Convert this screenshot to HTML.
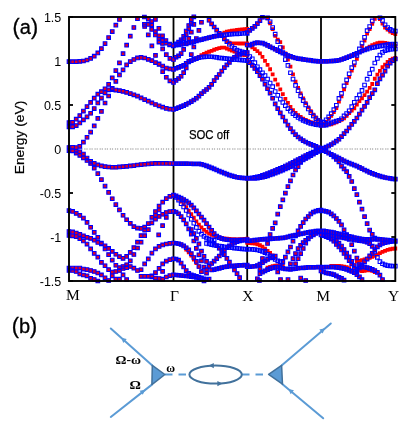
<!DOCTYPE html>
<html><head><meta charset="utf-8"><style>
html,body{margin:0;padding:0;background:#fff;}
body{width:415px;height:437px;overflow:hidden;position:relative;}
svg{position:absolute;left:0;top:0;filter:blur(0.35px);}
</style></head><body>
<svg width="415" height="437" viewBox="0 0 415 437">
<rect width="415" height="437" fill="#fff"/>
<line x1="69" y1="149" x2="395.3" y2="149" stroke="#8a8a8a" stroke-width="1" stroke-dasharray="1.2,0.9,1.2,1.8"/>
<g stroke="#000" stroke-width="1.8">
<line x1="173.5" y1="17" x2="173.5" y2="281"/><line x1="247.2" y1="17" x2="247.2" y2="281"/><line x1="321" y1="17" x2="321" y2="281"/>
<line x1="69" y1="17" x2="73" y2="17"/><line x1="395.3" y1="17" x2="391.3" y2="17"/><line x1="69" y1="61" x2="73" y2="61"/><line x1="395.3" y1="61" x2="391.3" y2="61"/><line x1="69" y1="105" x2="73" y2="105"/><line x1="395.3" y1="105" x2="391.3" y2="105"/><line x1="69" y1="149" x2="73" y2="149"/><line x1="395.3" y1="149" x2="391.3" y2="149"/><line x1="69" y1="193" x2="73" y2="193"/><line x1="395.3" y1="193" x2="391.3" y2="193"/><line x1="69" y1="237" x2="73" y2="237"/><line x1="395.3" y1="237" x2="391.3" y2="237"/><line x1="69" y1="281" x2="73" y2="281"/><line x1="395.3" y1="281" x2="391.3" y2="281"/>
</g>
<path d="M219.89 32.18h3.8v3.8h-3.8zM222.43 30.79h3.8v3.8h-3.8zM224.97 29.77h3.8v3.8h-3.8zM227.51 29.18h3.8v3.8h-3.8zM230.05 28.75h3.8v3.8h-3.8zM232.59 28.40h3.8v3.8h-3.8zM235.13 28.10h3.8v3.8h-3.8zM237.68 27.80h3.8v3.8h-3.8zM240.22 27.53h3.8v3.8h-3.8zM242.76 27.29h3.8v3.8h-3.8zM245.30 27.10h3.8v3.8h-3.8zM207.18 18.37h3.8v3.8h-3.8zM209.72 21.92h3.8v3.8h-3.8zM212.26 25.08h3.8v3.8h-3.8zM214.80 28.26h3.8v3.8h-3.8zM217.34 31.45h3.8v3.8h-3.8zM219.89 33.86h3.8v3.8h-3.8zM222.43 37.00h3.8v3.8h-3.8zM224.97 39.60h3.8v3.8h-3.8zM227.51 40.85h3.8v3.8h-3.8zM230.05 41.40h3.8v3.8h-3.8zM232.59 41.51h3.8v3.8h-3.8zM235.13 41.57h3.8v3.8h-3.8zM237.68 41.60h3.8v3.8h-3.8zM240.22 41.60h3.8v3.8h-3.8zM242.76 41.60h3.8v3.8h-3.8zM245.30 41.60h3.8v3.8h-3.8zM191.93 57.40h3.8v3.8h-3.8zM194.47 56.25h3.8v3.8h-3.8zM197.01 54.88h3.8v3.8h-3.8zM199.56 53.31h3.8v3.8h-3.8zM202.10 51.91h3.8v3.8h-3.8zM204.64 50.83h3.8v3.8h-3.8zM207.18 49.87h3.8v3.8h-3.8zM209.72 48.89h3.8v3.8h-3.8zM212.26 47.86h3.8v3.8h-3.8zM214.80 46.98h3.8v3.8h-3.8zM217.34 46.28h3.8v3.8h-3.8zM219.89 45.73h3.8v3.8h-3.8zM222.43 45.69h3.8v3.8h-3.8zM224.97 46.59h3.8v3.8h-3.8zM227.51 47.68h3.8v3.8h-3.8zM230.05 48.62h3.8v3.8h-3.8zM232.59 49.61h3.8v3.8h-3.8zM235.13 50.63h3.8v3.8h-3.8zM237.68 51.96h3.8v3.8h-3.8zM240.22 52.99h3.8v3.8h-3.8zM242.76 53.10h3.8v3.8h-3.8zM245.30 53.10h3.8v3.8h-3.8zM171.60 193.60h3.8v3.8h-3.8zM174.14 194.93h3.8v3.8h-3.8zM176.68 196.86h3.8v3.8h-3.8zM179.22 199.58h3.8v3.8h-3.8zM181.77 202.37h3.8v3.8h-3.8zM184.31 205.36h3.8v3.8h-3.8zM186.85 208.72h3.8v3.8h-3.8zM189.39 212.22h3.8v3.8h-3.8zM191.93 215.87h3.8v3.8h-3.8zM194.47 219.53h3.8v3.8h-3.8zM197.01 222.72h3.8v3.8h-3.8zM199.56 225.44h3.8v3.8h-3.8zM202.10 227.94h3.8v3.8h-3.8zM204.64 230.06h3.8v3.8h-3.8zM207.18 231.66h3.8v3.8h-3.8zM209.72 232.92h3.8v3.8h-3.8zM212.26 233.97h3.8v3.8h-3.8zM214.80 234.81h3.8v3.8h-3.8zM217.34 235.44h3.8v3.8h-3.8zM219.89 235.96h3.8v3.8h-3.8zM222.43 236.38h3.8v3.8h-3.8zM224.97 236.71h3.8v3.8h-3.8zM227.51 236.95h3.8v3.8h-3.8zM230.05 237.16h3.8v3.8h-3.8zM232.59 237.32h3.8v3.8h-3.8zM235.13 237.40h3.8v3.8h-3.8zM237.68 237.37h3.8v3.8h-3.8zM240.22 237.26h3.8v3.8h-3.8zM242.76 237.07h3.8v3.8h-3.8zM245.30 236.80h3.8v3.8h-3.8zM265.66 16.33h3.8v3.8h-3.8zM268.20 21.34h3.8v3.8h-3.8zM270.75 27.22h3.8v3.8h-3.8zM273.29 33.99h3.8v3.8h-3.8zM275.84 37.73h3.8v3.8h-3.8zM278.38 40.29h3.8v3.8h-3.8zM280.93 45.59h3.8v3.8h-3.8zM283.47 51.61h3.8v3.8h-3.8zM286.02 57.61h3.8v3.8h-3.8zM288.56 64.67h3.8v3.8h-3.8zM291.11 72.42h3.8v3.8h-3.8zM293.65 79.81h3.8v3.8h-3.8zM296.20 85.96h3.8v3.8h-3.8zM298.74 91.39h3.8v3.8h-3.8zM301.29 96.56h3.8v3.8h-3.8zM303.83 101.16h3.8v3.8h-3.8zM306.38 105.38h3.8v3.8h-3.8zM308.92 109.35h3.8v3.8h-3.8zM311.47 112.70h3.8v3.8h-3.8zM314.01 115.58h3.8v3.8h-3.8zM316.56 117.99h3.8v3.8h-3.8zM319.10 119.90h3.8v3.8h-3.8zM365.22 46.35h3.8v3.8h-3.8zM367.78 44.78h3.8v3.8h-3.8zM370.34 43.37h3.8v3.8h-3.8zM372.90 42.20h3.8v3.8h-3.8zM375.47 41.35h3.8v3.8h-3.8zM378.03 40.76h3.8v3.8h-3.8zM380.59 40.75h3.8v3.8h-3.8zM383.15 40.99h3.8v3.8h-3.8zM385.71 41.41h3.8v3.8h-3.8zM388.28 42.31h3.8v3.8h-3.8zM390.84 43.19h3.8v3.8h-3.8zM393.40 44.10h3.8v3.8h-3.8zM245.30 41.50h3.8v3.8h-3.8zM247.84 43.40h3.8v3.8h-3.8zM250.39 45.54h3.8v3.8h-3.8zM252.93 47.29h3.8v3.8h-3.8zM255.48 49.14h3.8v3.8h-3.8zM258.02 51.47h3.8v3.8h-3.8zM260.57 54.93h3.8v3.8h-3.8zM263.11 58.88h3.8v3.8h-3.8zM265.66 63.03h3.8v3.8h-3.8zM268.20 67.36h3.8v3.8h-3.8zM270.75 72.38h3.8v3.8h-3.8zM273.29 77.68h3.8v3.8h-3.8zM275.84 82.60h3.8v3.8h-3.8zM278.38 87.49h3.8v3.8h-3.8zM280.93 92.28h3.8v3.8h-3.8zM283.47 96.88h3.8v3.8h-3.8zM286.02 100.97h3.8v3.8h-3.8zM288.56 104.91h3.8v3.8h-3.8zM291.11 108.17h3.8v3.8h-3.8zM293.65 110.91h3.8v3.8h-3.8zM296.20 113.18h3.8v3.8h-3.8zM298.74 115.05h3.8v3.8h-3.8zM301.29 116.65h3.8v3.8h-3.8zM303.83 118.02h3.8v3.8h-3.8zM306.38 119.20h3.8v3.8h-3.8zM308.92 120.23h3.8v3.8h-3.8zM311.47 121.06h3.8v3.8h-3.8zM314.01 121.73h3.8v3.8h-3.8zM316.56 122.29h3.8v3.8h-3.8zM319.10 122.70h3.8v3.8h-3.8zM245.30 241.00h3.8v3.8h-3.8zM247.84 241.10h3.8v3.8h-3.8zM250.39 241.36h3.8v3.8h-3.8zM252.93 241.72h3.8v3.8h-3.8zM255.48 242.37h3.8v3.8h-3.8zM258.02 243.33h3.8v3.8h-3.8zM260.57 244.87h3.8v3.8h-3.8zM263.11 246.85h3.8v3.8h-3.8zM265.66 249.02h3.8v3.8h-3.8zM268.20 251.12h3.8v3.8h-3.8zM270.75 253.38h3.8v3.8h-3.8zM273.29 255.62h3.8v3.8h-3.8zM265.66 265.86h3.8v3.8h-3.8zM268.20 264.90h3.8v3.8h-3.8zM270.75 264.16h3.8v3.8h-3.8zM273.29 263.74h3.8v3.8h-3.8zM275.84 263.47h3.8v3.8h-3.8zM278.38 263.42h3.8v3.8h-3.8zM280.93 263.81h3.8v3.8h-3.8zM354.97 259.60h3.8v3.8h-3.8zM357.53 258.91h3.8v3.8h-3.8zM360.09 258.19h3.8v3.8h-3.8zM362.66 257.46h3.8v3.8h-3.8zM365.22 256.71h3.8v3.8h-3.8zM367.78 255.86h3.8v3.8h-3.8zM370.34 254.90h3.8v3.8h-3.8zM372.90 253.83h3.8v3.8h-3.8zM375.47 252.60h3.8v3.8h-3.8zM378.03 251.26h3.8v3.8h-3.8zM380.59 250.05h3.8v3.8h-3.8zM383.15 248.89h3.8v3.8h-3.8zM385.71 247.97h3.8v3.8h-3.8zM388.28 247.36h3.8v3.8h-3.8zM390.84 246.87h3.8v3.8h-3.8zM393.40 246.60h3.8v3.8h-3.8zM321.66 121.71h3.8v3.8h-3.8zM324.22 119.92h3.8v3.8h-3.8zM326.79 117.05h3.8v3.8h-3.8zM329.35 113.97h3.8v3.8h-3.8zM331.91 110.21h3.8v3.8h-3.8zM334.47 106.08h3.8v3.8h-3.8zM337.03 99.80h3.8v3.8h-3.8zM339.60 94.41h3.8v3.8h-3.8zM342.16 87.56h3.8v3.8h-3.8zM344.72 81.15h3.8v3.8h-3.8zM347.28 75.04h3.8v3.8h-3.8zM349.85 68.82h3.8v3.8h-3.8zM352.41 63.52h3.8v3.8h-3.8zM354.97 57.04h3.8v3.8h-3.8zM357.53 50.21h3.8v3.8h-3.8zM360.09 44.22h3.8v3.8h-3.8zM362.66 38.61h3.8v3.8h-3.8zM365.22 31.69h3.8v3.8h-3.8zM367.78 27.27h3.8v3.8h-3.8zM370.34 21.87h3.8v3.8h-3.8zM372.90 16.83h3.8v3.8h-3.8zM378.03 17.30h3.8v3.8h-3.8zM380.59 21.72h3.8v3.8h-3.8zM383.15 25.62h3.8v3.8h-3.8zM385.71 27.62h3.8v3.8h-3.8zM388.28 29.74h3.8v3.8h-3.8zM390.84 31.25h3.8v3.8h-3.8zM393.40 32.10h3.8v3.8h-3.8zM319.10 123.60h3.8v3.8h-3.8zM321.66 123.49h3.8v3.8h-3.8zM324.22 123.21h3.8v3.8h-3.8zM326.79 122.82h3.8v3.8h-3.8zM329.35 122.33h3.8v3.8h-3.8zM331.91 121.54h3.8v3.8h-3.8zM334.47 120.50h3.8v3.8h-3.8zM337.03 119.18h3.8v3.8h-3.8zM339.60 118.00h3.8v3.8h-3.8zM342.16 116.54h3.8v3.8h-3.8zM344.72 113.91h3.8v3.8h-3.8zM347.28 111.32h3.8v3.8h-3.8zM349.85 108.79h3.8v3.8h-3.8zM352.41 106.33h3.8v3.8h-3.8zM354.97 102.80h3.8v3.8h-3.8zM357.53 99.27h3.8v3.8h-3.8zM360.09 96.37h3.8v3.8h-3.8zM362.66 93.30h3.8v3.8h-3.8zM365.22 89.68h3.8v3.8h-3.8zM367.78 86.05h3.8v3.8h-3.8zM370.34 82.12h3.8v3.8h-3.8zM372.90 76.84h3.8v3.8h-3.8zM375.47 72.71h3.8v3.8h-3.8zM378.03 69.03h3.8v3.8h-3.8zM380.59 65.25h3.8v3.8h-3.8zM383.15 62.65h3.8v3.8h-3.8zM385.71 60.04h3.8v3.8h-3.8zM388.28 57.97h3.8v3.8h-3.8zM390.84 56.75h3.8v3.8h-3.8zM393.40 56.10h3.8v3.8h-3.8zM357.53 268.60h3.8v3.8h-3.8zM360.09 269.09h3.8v3.8h-3.8zM362.66 268.90h3.8v3.8h-3.8zM365.22 268.51h3.8v3.8h-3.8zM367.78 268.46h3.8v3.8h-3.8zM370.34 269.06h3.8v3.8h-3.8zM372.90 270.15h3.8v3.8h-3.8zM329.35 264.10h3.8v3.8h-3.8zM331.91 264.10h3.8v3.8h-3.8zM334.47 264.10h3.8v3.8h-3.8zM337.03 264.10h3.8v3.8h-3.8zM339.60 264.27h3.8v3.8h-3.8zM342.16 264.75h3.8v3.8h-3.8zM344.72 265.37h3.8v3.8h-3.8zM347.28 266.34h3.8v3.8h-3.8zM184.31 247.60h3.8v3.8h-3.8zM186.85 250.40h3.8v3.8h-3.8zM189.39 253.80h3.8v3.8h-3.8zM191.93 257.68h3.8v3.8h-3.8zM194.47 261.26h3.8v3.8h-3.8zM197.01 265.01h3.8v3.8h-3.8zM199.56 269.81h3.8v3.8h-3.8z" fill="#f00"/>
<path d="M67.10 59.80h3.8v3.8h-3.8zM70.70 59.80h3.8v3.8h-3.8zM74.31 59.80h3.8v3.8h-3.8zM77.91 59.40h3.8v3.8h-3.8zM81.51 59.10h3.8v3.8h-3.8zM85.12 58.09h3.8v3.8h-3.8zM88.72 56.49h3.8v3.8h-3.8zM92.32 54.28h3.8v3.8h-3.8zM95.93 51.07h3.8v3.8h-3.8zM99.53 46.76h3.8v3.8h-3.8zM103.13 41.65h3.8v3.8h-3.8zM106.74 35.64h3.8v3.8h-3.8zM110.34 29.63h3.8v3.8h-3.8zM113.94 23.32h3.8v3.8h-3.8zM117.55 17.52h3.8v3.8h-3.8zM67.10 120.70h3.8v3.8h-3.8zM70.70 120.40h3.8v3.8h-3.8zM74.31 117.29h3.8v3.8h-3.8zM77.91 113.78h3.8v3.8h-3.8zM81.51 109.13h3.8v3.8h-3.8zM85.12 104.80h3.8v3.8h-3.8zM88.72 100.56h3.8v3.8h-3.8zM92.32 96.27h3.8v3.8h-3.8zM95.93 92.30h3.8v3.8h-3.8zM99.53 89.75h3.8v3.8h-3.8zM103.13 86.97h3.8v3.8h-3.8zM106.74 82.40h3.8v3.8h-3.8zM110.34 76.02h3.8v3.8h-3.8zM113.94 68.69h3.8v3.8h-3.8zM117.55 60.95h3.8v3.8h-3.8zM121.15 51.75h3.8v3.8h-3.8zM124.75 43.28h3.8v3.8h-3.8zM128.36 34.32h3.8v3.8h-3.8zM131.96 25.61h3.8v3.8h-3.8zM135.57 16.87h3.8v3.8h-3.8zM67.10 124.90h3.8v3.8h-3.8zM70.70 124.90h3.8v3.8h-3.8zM74.31 123.64h3.8v3.8h-3.8zM77.91 121.01h3.8v3.8h-3.8zM81.51 117.92h3.8v3.8h-3.8zM85.12 114.93h3.8v3.8h-3.8zM88.72 111.36h3.8v3.8h-3.8zM92.32 106.67h3.8v3.8h-3.8zM95.93 101.07h3.8v3.8h-3.8zM99.53 96.20h3.8v3.8h-3.8zM103.13 90.95h3.8v3.8h-3.8zM106.74 87.89h3.8v3.8h-3.8zM110.34 87.70h3.8v3.8h-3.8zM113.94 88.21h3.8v3.8h-3.8zM117.55 88.74h3.8v3.8h-3.8zM121.15 89.41h3.8v3.8h-3.8zM124.75 90.41h3.8v3.8h-3.8zM128.36 91.69h3.8v3.8h-3.8zM131.96 92.89h3.8v3.8h-3.8zM135.57 94.21h3.8v3.8h-3.8zM139.17 95.98h3.8v3.8h-3.8zM142.77 97.68h3.8v3.8h-3.8zM146.38 99.23h3.8v3.8h-3.8zM149.98 100.98h3.8v3.8h-3.8zM153.58 102.61h3.8v3.8h-3.8zM157.19 103.91h3.8v3.8h-3.8zM160.79 105.27h3.8v3.8h-3.8zM164.39 106.55h3.8v3.8h-3.8zM168.00 107.28h3.8v3.8h-3.8zM171.60 107.50h3.8v3.8h-3.8zM67.10 145.60h3.8v3.8h-3.8zM70.70 145.40h3.8v3.8h-3.8zM74.31 145.70h3.8v3.8h-3.8zM77.91 144.44h3.8v3.8h-3.8zM81.51 140.26h3.8v3.8h-3.8zM85.12 135.36h3.8v3.8h-3.8zM88.72 130.17h3.8v3.8h-3.8zM92.32 124.05h3.8v3.8h-3.8zM95.93 116.54h3.8v3.8h-3.8zM99.53 109.55h3.8v3.8h-3.8zM103.13 101.12h3.8v3.8h-3.8zM106.74 94.12h3.8v3.8h-3.8zM110.34 86.42h3.8v3.8h-3.8zM113.94 79.42h3.8v3.8h-3.8zM117.55 73.01h3.8v3.8h-3.8zM121.15 67.94h3.8v3.8h-3.8zM124.75 62.91h3.8v3.8h-3.8zM128.36 59.65h3.8v3.8h-3.8zM131.96 57.62h3.8v3.8h-3.8zM135.57 56.04h3.8v3.8h-3.8zM139.17 55.50h3.8v3.8h-3.8zM142.77 56.09h3.8v3.8h-3.8zM146.38 57.43h3.8v3.8h-3.8zM149.98 58.78h3.8v3.8h-3.8zM153.58 60.69h3.8v3.8h-3.8zM157.19 62.44h3.8v3.8h-3.8zM160.79 64.20h3.8v3.8h-3.8zM164.39 66.17h3.8v3.8h-3.8zM168.00 67.07h3.8v3.8h-3.8zM171.60 67.40h3.8v3.8h-3.8zM67.10 148.40h3.8v3.8h-3.8zM70.70 148.80h3.8v3.8h-3.8zM74.31 149.10h3.8v3.8h-3.8zM77.91 149.90h3.8v3.8h-3.8zM81.51 152.21h3.8v3.8h-3.8zM85.12 156.22h3.8v3.8h-3.8zM88.72 159.41h3.8v3.8h-3.8zM92.32 161.46h3.8v3.8h-3.8zM95.93 163.01h3.8v3.8h-3.8zM99.53 164.07h3.8v3.8h-3.8zM103.13 164.73h3.8v3.8h-3.8zM106.74 165.12h3.8v3.8h-3.8zM110.34 165.36h3.8v3.8h-3.8zM113.94 165.34h3.8v3.8h-3.8zM117.55 165.07h3.8v3.8h-3.8zM121.15 164.78h3.8v3.8h-3.8zM124.75 164.42h3.8v3.8h-3.8zM128.36 164.06h3.8v3.8h-3.8zM131.96 163.64h3.8v3.8h-3.8zM135.57 163.12h3.8v3.8h-3.8zM139.17 162.68h3.8v3.8h-3.8zM142.77 162.35h3.8v3.8h-3.8zM146.38 162.02h3.8v3.8h-3.8zM149.98 161.65h3.8v3.8h-3.8zM153.58 161.50h3.8v3.8h-3.8zM157.19 161.50h3.8v3.8h-3.8zM160.79 161.50h3.8v3.8h-3.8zM164.39 161.53h3.8v3.8h-3.8zM168.00 161.62h3.8v3.8h-3.8zM171.60 161.70h3.8v3.8h-3.8zM174.14 161.73h3.8v3.8h-3.8zM176.68 161.74h3.8v3.8h-3.8zM179.22 161.76h3.8v3.8h-3.8zM181.77 161.78h3.8v3.8h-3.8zM184.31 161.80h3.8v3.8h-3.8zM186.85 161.83h3.8v3.8h-3.8zM189.39 161.85h3.8v3.8h-3.8zM191.93 161.89h3.8v3.8h-3.8zM194.47 161.93h3.8v3.8h-3.8zM197.01 162.00h3.8v3.8h-3.8zM199.56 162.36h3.8v3.8h-3.8zM202.10 163.11h3.8v3.8h-3.8zM204.64 164.05h3.8v3.8h-3.8zM207.18 164.96h3.8v3.8h-3.8zM209.72 165.93h3.8v3.8h-3.8zM212.26 166.99h3.8v3.8h-3.8zM214.80 168.08h3.8v3.8h-3.8zM217.34 169.13h3.8v3.8h-3.8zM219.89 170.21h3.8v3.8h-3.8zM222.43 171.29h3.8v3.8h-3.8zM224.97 172.27h3.8v3.8h-3.8zM227.51 173.15h3.8v3.8h-3.8zM230.05 174.02h3.8v3.8h-3.8zM232.59 174.78h3.8v3.8h-3.8zM235.13 175.33h3.8v3.8h-3.8zM237.68 175.69h3.8v3.8h-3.8zM240.22 176.00h3.8v3.8h-3.8zM242.76 176.22h3.8v3.8h-3.8zM245.30 176.30h3.8v3.8h-3.8zM247.84 176.19h3.8v3.8h-3.8zM250.39 175.91h3.8v3.8h-3.8zM252.93 175.57h3.8v3.8h-3.8zM255.48 175.05h3.8v3.8h-3.8zM258.02 174.33h3.8v3.8h-3.8zM260.57 173.55h3.8v3.8h-3.8zM263.11 172.67h3.8v3.8h-3.8zM265.66 171.67h3.8v3.8h-3.8zM268.20 170.63h3.8v3.8h-3.8zM270.75 169.60h3.8v3.8h-3.8zM273.29 168.58h3.8v3.8h-3.8zM275.84 167.55h3.8v3.8h-3.8zM278.38 166.48h3.8v3.8h-3.8zM280.93 165.35h3.8v3.8h-3.8zM283.47 164.16h3.8v3.8h-3.8zM286.02 162.93h3.8v3.8h-3.8zM288.56 161.67h3.8v3.8h-3.8zM291.11 160.38h3.8v3.8h-3.8zM293.65 159.06h3.8v3.8h-3.8zM296.20 157.72h3.8v3.8h-3.8zM298.74 156.38h3.8v3.8h-3.8zM301.29 155.03h3.8v3.8h-3.8zM303.83 153.65h3.8v3.8h-3.8zM306.38 152.34h3.8v3.8h-3.8zM308.92 151.16h3.8v3.8h-3.8zM311.47 150.10h3.8v3.8h-3.8zM314.01 149.11h3.8v3.8h-3.8zM316.56 148.21h3.8v3.8h-3.8zM319.10 147.40h3.8v3.8h-3.8zM245.30 176.60h3.8v3.8h-3.8zM247.84 176.57h3.8v3.8h-3.8zM250.39 176.49h3.8v3.8h-3.8zM252.93 176.39h3.8v3.8h-3.8zM255.48 176.17h3.8v3.8h-3.8zM258.02 175.81h3.8v3.8h-3.8zM260.57 175.37h3.8v3.8h-3.8zM263.11 174.75h3.8v3.8h-3.8zM265.66 173.94h3.8v3.8h-3.8zM268.20 173.03h3.8v3.8h-3.8zM270.75 172.14h3.8v3.8h-3.8zM273.29 171.22h3.8v3.8h-3.8zM275.84 170.26h3.8v3.8h-3.8zM278.38 169.24h3.8v3.8h-3.8zM280.93 168.18h3.8v3.8h-3.8zM283.47 167.06h3.8v3.8h-3.8zM286.02 165.88h3.8v3.8h-3.8zM288.56 164.66h3.8v3.8h-3.8zM291.11 163.40h3.8v3.8h-3.8zM293.65 162.10h3.8v3.8h-3.8zM296.20 160.75h3.8v3.8h-3.8zM298.74 159.39h3.8v3.8h-3.8zM301.29 158.01h3.8v3.8h-3.8zM303.83 156.61h3.8v3.8h-3.8zM306.38 155.18h3.8v3.8h-3.8zM308.92 153.71h3.8v3.8h-3.8zM311.47 152.13h3.8v3.8h-3.8zM314.01 150.65h3.8v3.8h-3.8zM316.56 149.43h3.8v3.8h-3.8zM319.10 148.40h3.8v3.8h-3.8zM67.10 148.80h3.8v3.8h-3.8zM70.70 149.10h3.8v3.8h-3.8zM74.31 151.20h3.8v3.8h-3.8zM77.91 153.41h3.8v3.8h-3.8zM81.51 156.11h3.8v3.8h-3.8zM85.12 158.61h3.8v3.8h-3.8zM88.72 161.62h3.8v3.8h-3.8zM92.32 166.23h3.8v3.8h-3.8zM95.93 171.74h3.8v3.8h-3.8zM99.53 177.65h3.8v3.8h-3.8zM103.13 184.16h3.8v3.8h-3.8zM106.74 190.57h3.8v3.8h-3.8zM110.34 196.87h3.8v3.8h-3.8zM113.94 202.67h3.8v3.8h-3.8zM117.55 208.07h3.8v3.8h-3.8zM121.15 213.37h3.8v3.8h-3.8zM124.75 217.86h3.8v3.8h-3.8zM128.36 221.46h3.8v3.8h-3.8zM131.96 224.74h3.8v3.8h-3.8zM135.57 226.21h3.8v3.8h-3.8zM139.17 226.50h3.8v3.8h-3.8zM142.77 225.26h3.8v3.8h-3.8zM146.38 221.70h3.8v3.8h-3.8zM149.98 215.47h3.8v3.8h-3.8zM153.58 209.67h3.8v3.8h-3.8zM157.19 204.12h3.8v3.8h-3.8zM160.79 200.31h3.8v3.8h-3.8zM164.39 196.81h3.8v3.8h-3.8zM168.00 194.40h3.8v3.8h-3.8zM171.60 193.20h3.8v3.8h-3.8zM174.14 193.93h3.8v3.8h-3.8zM176.68 195.08h3.8v3.8h-3.8zM179.22 196.30h3.8v3.8h-3.8zM181.77 197.70h3.8v3.8h-3.8zM184.31 199.25h3.8v3.8h-3.8zM186.85 201.06h3.8v3.8h-3.8zM189.39 203.31h3.8v3.8h-3.8zM191.93 206.01h3.8v3.8h-3.8zM194.47 208.97h3.8v3.8h-3.8zM197.01 212.12h3.8v3.8h-3.8zM199.56 215.14h3.8v3.8h-3.8zM202.10 218.28h3.8v3.8h-3.8zM204.64 221.78h3.8v3.8h-3.8zM207.18 225.23h3.8v3.8h-3.8zM209.72 228.45h3.8v3.8h-3.8zM212.26 231.65h3.8v3.8h-3.8zM214.80 234.19h3.8v3.8h-3.8zM217.34 235.73h3.8v3.8h-3.8zM219.89 236.74h3.8v3.8h-3.8zM222.43 237.36h3.8v3.8h-3.8zM224.97 237.85h3.8v3.8h-3.8zM227.51 238.09h3.8v3.8h-3.8zM230.05 238.10h3.8v3.8h-3.8zM232.59 238.10h3.8v3.8h-3.8zM235.13 238.10h3.8v3.8h-3.8zM237.68 238.10h3.8v3.8h-3.8zM240.22 238.04h3.8v3.8h-3.8zM242.76 237.85h3.8v3.8h-3.8zM245.30 237.60h3.8v3.8h-3.8zM67.10 208.70h3.8v3.8h-3.8zM70.70 209.57h3.8v3.8h-3.8zM74.31 211.38h3.8v3.8h-3.8zM77.91 213.51h3.8v3.8h-3.8zM81.51 216.14h3.8v3.8h-3.8zM85.12 220.52h3.8v3.8h-3.8zM88.72 225.33h3.8v3.8h-3.8zM92.32 230.43h3.8v3.8h-3.8zM95.93 235.44h3.8v3.8h-3.8zM99.53 241.15h3.8v3.8h-3.8zM103.13 247.05h3.8v3.8h-3.8zM106.74 252.76h3.8v3.8h-3.8zM110.34 258.16h3.8v3.8h-3.8zM113.94 263.34h3.8v3.8h-3.8zM117.55 265.80h3.8v3.8h-3.8zM121.15 264.58h3.8v3.8h-3.8zM124.75 262.86h3.8v3.8h-3.8zM128.36 258.92h3.8v3.8h-3.8zM131.96 252.59h3.8v3.8h-3.8zM135.57 246.09h3.8v3.8h-3.8zM139.17 240.28h3.8v3.8h-3.8zM142.77 233.78h3.8v3.8h-3.8zM146.38 227.76h3.8v3.8h-3.8zM149.98 220.90h3.8v3.8h-3.8zM153.58 217.23h3.8v3.8h-3.8zM157.19 214.54h3.8v3.8h-3.8zM160.79 212.35h3.8v3.8h-3.8zM164.39 210.60h3.8v3.8h-3.8zM168.00 209.70h3.8v3.8h-3.8zM171.60 209.40h3.8v3.8h-3.8zM174.14 210.08h3.8v3.8h-3.8zM176.68 211.83h3.8v3.8h-3.8zM179.22 214.69h3.8v3.8h-3.8zM181.77 217.93h3.8v3.8h-3.8zM184.31 221.97h3.8v3.8h-3.8zM186.85 227.00h3.8v3.8h-3.8zM189.39 232.30h3.8v3.8h-3.8zM191.93 239.10h3.8v3.8h-3.8zM194.47 246.42h3.8v3.8h-3.8zM197.01 252.89h3.8v3.8h-3.8zM199.56 258.99h3.8v3.8h-3.8zM202.10 265.09h3.8v3.8h-3.8zM204.64 271.19h3.8v3.8h-3.8zM207.18 277.27h3.8v3.8h-3.8zM67.10 229.60h3.8v3.8h-3.8zM70.70 230.00h3.8v3.8h-3.8zM74.31 231.10h3.8v3.8h-3.8zM77.91 232.50h3.8v3.8h-3.8zM81.51 233.91h3.8v3.8h-3.8zM85.12 235.41h3.8v3.8h-3.8zM88.72 236.41h3.8v3.8h-3.8zM92.32 238.31h3.8v3.8h-3.8zM95.93 240.51h3.8v3.8h-3.8zM99.53 241.91h3.8v3.8h-3.8zM103.13 243.92h3.8v3.8h-3.8zM106.74 246.53h3.8v3.8h-3.8zM110.34 249.43h3.8v3.8h-3.8zM113.94 252.33h3.8v3.8h-3.8zM117.55 254.73h3.8v3.8h-3.8zM121.15 256.40h3.8v3.8h-3.8zM124.75 254.56h3.8v3.8h-3.8zM128.36 250.53h3.8v3.8h-3.8zM131.96 245.81h3.8v3.8h-3.8zM135.57 240.29h3.8v3.8h-3.8zM139.17 233.78h3.8v3.8h-3.8zM142.77 228.20h3.8v3.8h-3.8zM67.10 233.50h3.8v3.8h-3.8zM70.70 233.90h3.8v3.8h-3.8zM74.31 234.70h3.8v3.8h-3.8zM77.91 236.81h3.8v3.8h-3.8zM81.51 239.01h3.8v3.8h-3.8zM85.12 242.22h3.8v3.8h-3.8zM88.72 247.03h3.8v3.8h-3.8zM92.32 251.43h3.8v3.8h-3.8zM95.93 255.23h3.8v3.8h-3.8zM99.53 260.44h3.8v3.8h-3.8zM103.13 263.83h3.8v3.8h-3.8zM106.74 267.73h3.8v3.8h-3.8zM110.34 270.10h3.8v3.8h-3.8zM113.94 269.59h3.8v3.8h-3.8zM117.55 268.58h3.8v3.8h-3.8zM121.15 266.58h3.8v3.8h-3.8zM124.75 265.78h3.8v3.8h-3.8zM128.36 264.60h3.8v3.8h-3.8zM131.96 266.23h3.8v3.8h-3.8zM135.57 268.60h3.8v3.8h-3.8zM139.17 267.87h3.8v3.8h-3.8zM142.77 261.99h3.8v3.8h-3.8zM146.38 256.99h3.8v3.8h-3.8zM149.98 251.19h3.8v3.8h-3.8zM153.58 247.03h3.8v3.8h-3.8zM157.19 244.56h3.8v3.8h-3.8zM160.79 243.07h3.8v3.8h-3.8zM164.39 242.10h3.8v3.8h-3.8zM168.00 241.40h3.8v3.8h-3.8zM171.60 241.10h3.8v3.8h-3.8zM174.14 241.37h3.8v3.8h-3.8zM176.68 241.86h3.8v3.8h-3.8zM179.22 242.62h3.8v3.8h-3.8zM181.77 243.99h3.8v3.8h-3.8zM184.31 245.86h3.8v3.8h-3.8zM186.85 248.04h3.8v3.8h-3.8zM189.39 251.78h3.8v3.8h-3.8zM191.93 255.59h3.8v3.8h-3.8zM194.47 259.49h3.8v3.8h-3.8zM197.01 264.62h3.8v3.8h-3.8zM199.56 269.79h3.8v3.8h-3.8zM202.10 279.09h3.8v3.8h-3.8zM67.10 266.20h3.8v3.8h-3.8zM70.70 266.20h3.8v3.8h-3.8zM74.31 266.20h3.8v3.8h-3.8zM77.91 266.20h3.8v3.8h-3.8zM81.51 267.20h3.8v3.8h-3.8zM85.12 267.70h3.8v3.8h-3.8zM88.72 268.61h3.8v3.8h-3.8zM92.32 269.61h3.8v3.8h-3.8zM95.93 271.11h3.8v3.8h-3.8zM99.53 273.02h3.8v3.8h-3.8zM103.13 275.93h3.8v3.8h-3.8zM106.74 278.60h3.8v3.8h-3.8zM67.10 268.40h3.8v3.8h-3.8zM70.70 268.60h3.8v3.8h-3.8zM74.31 269.60h3.8v3.8h-3.8zM77.91 272.00h3.8v3.8h-3.8zM81.51 273.10h3.8v3.8h-3.8zM85.12 273.91h3.8v3.8h-3.8zM88.72 276.41h3.8v3.8h-3.8zM92.32 277.61h3.8v3.8h-3.8zM95.93 279.10h3.8v3.8h-3.8zM110.34 273.96h3.8v3.8h-3.8zM113.94 277.30h3.8v3.8h-3.8zM117.55 277.30h3.8v3.8h-3.8zM121.15 273.00h3.8v3.8h-3.8zM124.75 277.80h3.8v3.8h-3.8zM149.98 274.04h3.8v3.8h-3.8zM153.58 270.71h3.8v3.8h-3.8zM157.19 266.40h3.8v3.8h-3.8zM160.79 262.01h3.8v3.8h-3.8zM164.39 259.20h3.8v3.8h-3.8zM168.00 257.80h3.8v3.8h-3.8zM171.60 256.90h3.8v3.8h-3.8zM174.14 257.09h3.8v3.8h-3.8zM176.68 258.27h3.8v3.8h-3.8zM179.22 261.15h3.8v3.8h-3.8zM181.77 265.07h3.8v3.8h-3.8zM184.31 268.68h3.8v3.8h-3.8zM186.85 271.37h3.8v3.8h-3.8zM189.39 272.90h3.8v3.8h-3.8zM191.93 273.78h3.8v3.8h-3.8zM194.47 274.54h3.8v3.8h-3.8zM197.01 275.27h3.8v3.8h-3.8zM199.56 276.06h3.8v3.8h-3.8zM202.10 276.90h3.8v3.8h-3.8zM204.64 277.60h3.8v3.8h-3.8zM139.17 274.40h3.8v3.8h-3.8zM142.77 274.40h3.8v3.8h-3.8zM146.38 274.40h3.8v3.8h-3.8zM149.98 274.92h3.8v3.8h-3.8zM153.58 276.12h3.8v3.8h-3.8zM157.19 276.61h3.8v3.8h-3.8zM160.79 277.30h3.8v3.8h-3.8zM164.39 275.10h3.8v3.8h-3.8zM168.00 273.70h3.8v3.8h-3.8zM171.60 273.00h3.8v3.8h-3.8zM174.14 273.11h3.8v3.8h-3.8zM176.68 273.36h3.8v3.8h-3.8zM179.22 273.61h3.8v3.8h-3.8zM181.77 273.83h3.8v3.8h-3.8zM184.31 274.07h3.8v3.8h-3.8zM186.85 274.34h3.8v3.8h-3.8zM189.39 274.65h3.8v3.8h-3.8zM191.93 275.03h3.8v3.8h-3.8zM194.47 275.48h3.8v3.8h-3.8zM197.01 276.04h3.8v3.8h-3.8zM199.56 276.76h3.8v3.8h-3.8zM202.10 277.60h3.8v3.8h-3.8zM142.77 24.61h3.8v3.8h-3.8zM146.38 32.94h3.8v3.8h-3.8zM149.98 44.01h3.8v3.8h-3.8zM153.58 53.56h3.8v3.8h-3.8zM157.19 62.02h3.8v3.8h-3.8zM160.79 69.75h3.8v3.8h-3.8zM164.39 75.33h3.8v3.8h-3.8zM168.00 78.88h3.8v3.8h-3.8zM171.60 80.40h3.8v3.8h-3.8zM157.19 40.28h3.8v3.8h-3.8zM160.79 47.03h3.8v3.8h-3.8zM164.39 52.75h3.8v3.8h-3.8zM168.00 56.45h3.8v3.8h-3.8zM171.60 57.60h3.8v3.8h-3.8zM171.60 43.60h3.8v3.8h-3.8zM174.14 43.28h3.8v3.8h-3.8zM176.68 42.92h3.8v3.8h-3.8zM179.22 42.51h3.8v3.8h-3.8zM181.77 42.06h3.8v3.8h-3.8zM184.31 41.55h3.8v3.8h-3.8zM186.85 40.97h3.8v3.8h-3.8zM189.39 40.32h3.8v3.8h-3.8zM191.93 39.64h3.8v3.8h-3.8zM194.47 38.95h3.8v3.8h-3.8zM197.01 38.30h3.8v3.8h-3.8zM199.56 37.66h3.8v3.8h-3.8zM202.10 37.01h3.8v3.8h-3.8zM204.64 36.36h3.8v3.8h-3.8zM207.18 35.73h3.8v3.8h-3.8zM209.72 35.11h3.8v3.8h-3.8zM212.26 34.53h3.8v3.8h-3.8zM214.80 33.98h3.8v3.8h-3.8zM217.34 33.45h3.8v3.8h-3.8zM171.60 43.60h3.8v3.8h-3.8zM174.14 42.07h3.8v3.8h-3.8zM176.68 40.31h3.8v3.8h-3.8zM179.22 37.87h3.8v3.8h-3.8zM181.77 34.36h3.8v3.8h-3.8zM184.31 29.19h3.8v3.8h-3.8zM186.85 23.59h3.8v3.8h-3.8zM189.39 17.62h3.8v3.8h-3.8zM174.14 43.09h3.8v3.8h-3.8zM176.68 41.91h3.8v3.8h-3.8zM179.22 39.58h3.8v3.8h-3.8zM181.77 36.65h3.8v3.8h-3.8zM184.31 32.69h3.8v3.8h-3.8zM186.85 26.80h3.8v3.8h-3.8zM189.39 21.72h3.8v3.8h-3.8zM191.93 14.90h3.8v3.8h-3.8zM171.60 57.60h3.8v3.8h-3.8zM174.14 55.37h3.8v3.8h-3.8zM176.68 53.91h3.8v3.8h-3.8zM179.22 51.67h3.8v3.8h-3.8zM181.77 47.48h3.8v3.8h-3.8zM184.31 42.08h3.8v3.8h-3.8zM186.85 36.49h3.8v3.8h-3.8zM189.39 30.23h3.8v3.8h-3.8zM191.93 22.50h3.8v3.8h-3.8zM171.60 80.30h3.8v3.8h-3.8zM174.14 78.57h3.8v3.8h-3.8zM176.68 76.61h3.8v3.8h-3.8zM179.22 74.37h3.8v3.8h-3.8zM181.77 70.79h3.8v3.8h-3.8zM184.31 66.08h3.8v3.8h-3.8zM186.85 59.47h3.8v3.8h-3.8zM189.39 52.63h3.8v3.8h-3.8zM191.93 45.00h3.8v3.8h-3.8zM194.47 36.69h3.8v3.8h-3.8zM197.01 28.55h3.8v3.8h-3.8zM199.56 20.34h3.8v3.8h-3.8zM171.60 67.40h3.8v3.8h-3.8zM174.14 66.34h3.8v3.8h-3.8zM176.68 65.41h3.8v3.8h-3.8zM179.22 64.50h3.8v3.8h-3.8zM181.77 63.47h3.8v3.8h-3.8zM184.31 61.48h3.8v3.8h-3.8zM186.85 59.88h3.8v3.8h-3.8zM189.39 58.70h3.8v3.8h-3.8zM191.93 57.48h3.8v3.8h-3.8zM171.60 107.50h3.8v3.8h-3.8zM174.14 106.70h3.8v3.8h-3.8zM176.68 105.80h3.8v3.8h-3.8zM179.22 104.80h3.8v3.8h-3.8zM181.77 103.69h3.8v3.8h-3.8zM184.31 102.45h3.8v3.8h-3.8zM186.85 101.10h3.8v3.8h-3.8zM189.39 99.67h3.8v3.8h-3.8zM191.93 98.11h3.8v3.8h-3.8zM194.47 96.37h3.8v3.8h-3.8zM197.01 94.26h3.8v3.8h-3.8zM199.56 91.82h3.8v3.8h-3.8zM202.10 89.61h3.8v3.8h-3.8zM204.64 87.59h3.8v3.8h-3.8zM207.18 85.36h3.8v3.8h-3.8zM209.72 82.47h3.8v3.8h-3.8zM212.26 78.68h3.8v3.8h-3.8zM214.80 75.56h3.8v3.8h-3.8zM217.34 72.60h3.8v3.8h-3.8zM219.89 69.22h3.8v3.8h-3.8zM222.43 65.71h3.8v3.8h-3.8zM224.97 63.03h3.8v3.8h-3.8zM227.51 60.39h3.8v3.8h-3.8zM230.05 57.73h3.8v3.8h-3.8zM232.59 55.48h3.8v3.8h-3.8zM235.13 53.82h3.8v3.8h-3.8zM237.68 52.51h3.8v3.8h-3.8zM240.22 51.44h3.8v3.8h-3.8zM242.76 50.85h3.8v3.8h-3.8zM245.30 50.60h3.8v3.8h-3.8zM204.64 267.65h3.8v3.8h-3.8zM207.18 264.23h3.8v3.8h-3.8zM209.72 261.58h3.8v3.8h-3.8zM212.26 259.14h3.8v3.8h-3.8zM214.80 256.63h3.8v3.8h-3.8zM217.34 254.10h3.8v3.8h-3.8zM219.89 251.22h3.8v3.8h-3.8zM222.43 248.09h3.8v3.8h-3.8zM224.97 245.72h3.8v3.8h-3.8zM227.51 243.96h3.8v3.8h-3.8zM230.05 242.45h3.8v3.8h-3.8zM232.59 241.00h3.8v3.8h-3.8zM235.13 239.85h3.8v3.8h-3.8zM237.68 239.10h3.8v3.8h-3.8zM240.22 238.45h3.8v3.8h-3.8zM242.76 237.99h3.8v3.8h-3.8zM245.30 237.80h3.8v3.8h-3.8zM209.72 268.10h3.8v3.8h-3.8zM212.26 267.63h3.8v3.8h-3.8zM214.80 267.05h3.8v3.8h-3.8zM217.34 266.44h3.8v3.8h-3.8zM219.89 265.74h3.8v3.8h-3.8zM222.43 265.09h3.8v3.8h-3.8zM224.97 264.66h3.8v3.8h-3.8zM227.51 264.34h3.8v3.8h-3.8zM230.05 264.08h3.8v3.8h-3.8zM232.59 263.87h3.8v3.8h-3.8zM235.13 263.70h3.8v3.8h-3.8zM237.68 263.53h3.8v3.8h-3.8zM240.22 263.39h3.8v3.8h-3.8zM242.76 263.28h3.8v3.8h-3.8zM245.30 263.20h3.8v3.8h-3.8zM212.26 241.26h3.8v3.8h-3.8zM214.80 243.77h3.8v3.8h-3.8zM217.34 246.37h3.8v3.8h-3.8zM219.89 249.14h3.8v3.8h-3.8zM222.43 252.71h3.8v3.8h-3.8zM224.97 256.53h3.8v3.8h-3.8zM227.51 260.31h3.8v3.8h-3.8zM230.05 264.19h3.8v3.8h-3.8zM232.59 268.03h3.8v3.8h-3.8zM235.13 271.79h3.8v3.8h-3.8zM237.68 275.78h3.8v3.8h-3.8zM245.30 30.60h3.8v3.8h-3.8zM247.84 28.47h3.8v3.8h-3.8zM250.39 26.46h3.8v3.8h-3.8zM252.93 24.38h3.8v3.8h-3.8zM255.48 21.68h3.8v3.8h-3.8zM258.02 18.72h3.8v3.8h-3.8zM260.57 15.34h3.8v3.8h-3.8zM245.30 43.10h3.8v3.8h-3.8zM247.84 43.30h3.8v3.8h-3.8zM250.39 42.24h3.8v3.8h-3.8zM252.93 41.27h3.8v3.8h-3.8zM255.48 40.82h3.8v3.8h-3.8zM258.02 40.88h3.8v3.8h-3.8zM260.57 41.17h3.8v3.8h-3.8zM263.11 42.29h3.8v3.8h-3.8zM265.66 43.56h3.8v3.8h-3.8zM268.20 44.85h3.8v3.8h-3.8zM270.75 46.09h3.8v3.8h-3.8zM273.29 47.35h3.8v3.8h-3.8zM275.84 48.66h3.8v3.8h-3.8zM278.38 49.92h3.8v3.8h-3.8zM280.93 51.16h3.8v3.8h-3.8zM283.47 52.53h3.8v3.8h-3.8zM286.02 53.61h3.8v3.8h-3.8zM288.56 54.42h3.8v3.8h-3.8zM291.11 55.33h3.8v3.8h-3.8zM293.65 56.11h3.8v3.8h-3.8zM296.20 56.64h3.8v3.8h-3.8zM298.74 57.07h3.8v3.8h-3.8zM301.29 57.49h3.8v3.8h-3.8zM303.83 57.87h3.8v3.8h-3.8zM306.38 58.22h3.8v3.8h-3.8zM308.92 58.54h3.8v3.8h-3.8zM311.47 58.89h3.8v3.8h-3.8zM314.01 59.23h3.8v3.8h-3.8zM316.56 59.49h3.8v3.8h-3.8zM319.10 59.60h3.8v3.8h-3.8zM321.66 59.57h3.8v3.8h-3.8zM324.22 59.49h3.8v3.8h-3.8zM326.79 59.35h3.8v3.8h-3.8zM329.35 59.17h3.8v3.8h-3.8zM331.91 58.95h3.8v3.8h-3.8zM334.47 58.70h3.8v3.8h-3.8zM337.03 58.33h3.8v3.8h-3.8zM339.60 57.61h3.8v3.8h-3.8zM342.16 56.67h3.8v3.8h-3.8zM344.72 55.70h3.8v3.8h-3.8zM347.28 54.72h3.8v3.8h-3.8zM349.85 53.64h3.8v3.8h-3.8zM352.41 52.51h3.8v3.8h-3.8zM354.97 51.38h3.8v3.8h-3.8zM357.53 50.22h3.8v3.8h-3.8zM360.09 49.10h3.8v3.8h-3.8zM362.66 48.11h3.8v3.8h-3.8zM245.30 58.70h3.8v3.8h-3.8zM247.84 60.78h3.8v3.8h-3.8zM250.39 63.42h3.8v3.8h-3.8zM252.93 66.59h3.8v3.8h-3.8zM255.48 69.81h3.8v3.8h-3.8zM258.02 73.69h3.8v3.8h-3.8zM260.57 77.35h3.8v3.8h-3.8zM263.11 82.31h3.8v3.8h-3.8zM265.66 86.83h3.8v3.8h-3.8zM268.20 91.15h3.8v3.8h-3.8zM270.75 96.33h3.8v3.8h-3.8zM273.29 102.05h3.8v3.8h-3.8zM275.84 106.76h3.8v3.8h-3.8zM278.38 110.90h3.8v3.8h-3.8zM280.93 115.10h3.8v3.8h-3.8zM283.47 119.20h3.8v3.8h-3.8zM286.02 123.20h3.8v3.8h-3.8zM288.56 126.72h3.8v3.8h-3.8zM291.11 129.93h3.8v3.8h-3.8zM293.65 132.77h3.8v3.8h-3.8zM296.20 135.11h3.8v3.8h-3.8zM298.74 137.03h3.8v3.8h-3.8zM301.29 138.66h3.8v3.8h-3.8zM303.83 140.10h3.8v3.8h-3.8zM306.38 141.36h3.8v3.8h-3.8zM308.92 142.48h3.8v3.8h-3.8zM311.47 143.52h3.8v3.8h-3.8zM314.01 144.56h3.8v3.8h-3.8zM316.56 145.70h3.8v3.8h-3.8zM319.10 146.90h3.8v3.8h-3.8zM255.48 276.85h3.8v3.8h-3.8zM258.02 267.00h3.8v3.8h-3.8zM260.57 256.58h3.8v3.8h-3.8zM263.11 249.29h3.8v3.8h-3.8zM265.66 241.57h3.8v3.8h-3.8zM268.20 232.70h3.8v3.8h-3.8zM270.75 226.41h3.8v3.8h-3.8zM273.29 220.95h3.8v3.8h-3.8zM275.84 212.18h3.8v3.8h-3.8zM278.38 204.81h3.8v3.8h-3.8zM280.93 197.91h3.8v3.8h-3.8zM283.47 191.14h3.8v3.8h-3.8zM286.02 184.78h3.8v3.8h-3.8zM288.56 178.90h3.8v3.8h-3.8zM291.11 173.11h3.8v3.8h-3.8zM293.65 168.07h3.8v3.8h-3.8zM296.20 164.80h3.8v3.8h-3.8zM298.74 160.51h3.8v3.8h-3.8zM301.29 157.68h3.8v3.8h-3.8zM303.83 155.53h3.8v3.8h-3.8zM306.38 153.79h3.8v3.8h-3.8zM308.92 152.21h3.8v3.8h-3.8zM311.47 150.59h3.8v3.8h-3.8zM314.01 149.14h3.8v3.8h-3.8zM316.56 148.01h3.8v3.8h-3.8zM319.10 147.10h3.8v3.8h-3.8zM275.84 270.10h3.8v3.8h-3.8zM278.38 265.07h3.8v3.8h-3.8zM280.93 259.53h3.8v3.8h-3.8zM283.47 255.23h3.8v3.8h-3.8zM286.02 250.07h3.8v3.8h-3.8zM288.56 245.09h3.8v3.8h-3.8zM291.11 239.30h3.8v3.8h-3.8zM293.65 233.99h3.8v3.8h-3.8zM296.20 229.01h3.8v3.8h-3.8zM298.74 224.57h3.8v3.8h-3.8zM301.29 220.76h3.8v3.8h-3.8zM303.83 217.10h3.8v3.8h-3.8zM306.38 214.62h3.8v3.8h-3.8zM308.92 211.99h3.8v3.8h-3.8zM311.47 210.25h3.8v3.8h-3.8zM314.01 209.16h3.8v3.8h-3.8zM316.56 208.53h3.8v3.8h-3.8zM319.10 208.30h3.8v3.8h-3.8zM286.02 266.97h3.8v3.8h-3.8zM288.56 261.97h3.8v3.8h-3.8zM291.11 256.79h3.8v3.8h-3.8zM293.65 251.70h3.8v3.8h-3.8zM296.20 246.66h3.8v3.8h-3.8zM298.74 243.45h3.8v3.8h-3.8zM301.29 240.72h3.8v3.8h-3.8zM303.83 238.33h3.8v3.8h-3.8zM306.38 236.37h3.8v3.8h-3.8zM308.92 234.61h3.8v3.8h-3.8zM311.47 232.97h3.8v3.8h-3.8zM314.01 231.50h3.8v3.8h-3.8zM316.56 230.22h3.8v3.8h-3.8zM319.10 229.10h3.8v3.8h-3.8zM291.11 266.93h3.8v3.8h-3.8zM293.65 261.85h3.8v3.8h-3.8zM296.20 256.82h3.8v3.8h-3.8zM298.74 251.64h3.8v3.8h-3.8zM301.29 246.61h3.8v3.8h-3.8zM303.83 241.28h3.8v3.8h-3.8zM306.38 236.98h3.8v3.8h-3.8zM308.92 234.36h3.8v3.8h-3.8zM245.30 239.10h3.8v3.8h-3.8zM247.84 238.86h3.8v3.8h-3.8zM250.39 238.59h3.8v3.8h-3.8zM252.93 238.30h3.8v3.8h-3.8zM255.48 237.93h3.8v3.8h-3.8zM258.02 237.61h3.8v3.8h-3.8zM260.57 237.39h3.8v3.8h-3.8zM263.11 237.21h3.8v3.8h-3.8zM265.66 237.05h3.8v3.8h-3.8zM268.20 236.89h3.8v3.8h-3.8zM270.75 236.75h3.8v3.8h-3.8zM273.29 236.62h3.8v3.8h-3.8zM275.84 236.47h3.8v3.8h-3.8zM278.38 236.28h3.8v3.8h-3.8zM280.93 235.99h3.8v3.8h-3.8zM283.47 235.61h3.8v3.8h-3.8zM286.02 235.06h3.8v3.8h-3.8zM288.56 234.31h3.8v3.8h-3.8zM291.11 233.66h3.8v3.8h-3.8zM293.65 233.11h3.8v3.8h-3.8zM296.20 232.58h3.8v3.8h-3.8zM298.74 232.07h3.8v3.8h-3.8zM301.29 231.58h3.8v3.8h-3.8zM303.83 231.07h3.8v3.8h-3.8zM306.38 230.55h3.8v3.8h-3.8zM308.92 230.05h3.8v3.8h-3.8zM311.47 229.64h3.8v3.8h-3.8zM314.01 229.31h3.8v3.8h-3.8zM316.56 229.02h3.8v3.8h-3.8zM319.10 228.90h3.8v3.8h-3.8zM321.66 229.05h3.8v3.8h-3.8zM324.22 229.42h3.8v3.8h-3.8zM326.79 229.87h3.8v3.8h-3.8zM329.35 230.32h3.8v3.8h-3.8zM331.91 230.82h3.8v3.8h-3.8zM334.47 231.39h3.8v3.8h-3.8zM337.03 232.00h3.8v3.8h-3.8zM339.60 232.69h3.8v3.8h-3.8zM342.16 233.37h3.8v3.8h-3.8zM344.72 233.97h3.8v3.8h-3.8zM347.28 234.51h3.8v3.8h-3.8zM349.85 235.05h3.8v3.8h-3.8zM352.41 235.63h3.8v3.8h-3.8zM354.97 236.21h3.8v3.8h-3.8zM357.53 236.68h3.8v3.8h-3.8zM360.09 237.10h3.8v3.8h-3.8zM362.66 237.38h3.8v3.8h-3.8zM365.22 237.53h3.8v3.8h-3.8zM367.78 237.60h3.8v3.8h-3.8zM370.34 237.40h3.8v3.8h-3.8zM372.90 237.10h3.8v3.8h-3.8zM375.47 237.17h3.8v3.8h-3.8zM378.03 237.38h3.8v3.8h-3.8zM380.59 237.65h3.8v3.8h-3.8zM383.15 237.90h3.8v3.8h-3.8zM385.71 238.14h3.8v3.8h-3.8zM388.28 238.38h3.8v3.8h-3.8zM390.84 238.63h3.8v3.8h-3.8zM393.40 238.90h3.8v3.8h-3.8zM245.30 264.80h3.8v3.8h-3.8zM247.84 264.75h3.8v3.8h-3.8zM250.39 264.60h3.8v3.8h-3.8zM252.93 264.37h3.8v3.8h-3.8zM255.48 263.60h3.8v3.8h-3.8zM258.02 262.26h3.8v3.8h-3.8zM260.57 260.81h3.8v3.8h-3.8zM263.11 259.12h3.8v3.8h-3.8zM265.66 257.40h3.8v3.8h-3.8zM268.20 256.09h3.8v3.8h-3.8zM270.75 254.95h3.8v3.8h-3.8zM273.29 254.10h3.8v3.8h-3.8zM258.02 271.78h3.8v3.8h-3.8zM260.57 270.23h3.8v3.8h-3.8zM263.11 268.92h3.8v3.8h-3.8zM265.66 267.78h3.8v3.8h-3.8zM268.20 266.72h3.8v3.8h-3.8zM270.75 265.94h3.8v3.8h-3.8zM273.29 265.38h3.8v3.8h-3.8zM275.84 265.10h3.8v3.8h-3.8zM278.38 265.67h3.8v3.8h-3.8zM280.93 266.57h3.8v3.8h-3.8zM283.47 267.00h3.8v3.8h-3.8zM286.02 267.32h3.8v3.8h-3.8zM288.56 267.38h3.8v3.8h-3.8zM291.11 267.06h3.8v3.8h-3.8zM293.65 266.65h3.8v3.8h-3.8zM296.20 266.37h3.8v3.8h-3.8zM298.74 266.11h3.8v3.8h-3.8zM301.29 265.90h3.8v3.8h-3.8zM303.83 265.72h3.8v3.8h-3.8zM306.38 265.55h3.8v3.8h-3.8zM308.92 265.43h3.8v3.8h-3.8zM311.47 265.38h3.8v3.8h-3.8zM314.01 265.34h3.8v3.8h-3.8zM316.56 265.31h3.8v3.8h-3.8zM319.10 265.30h3.8v3.8h-3.8zM319.10 147.10h3.8v3.8h-3.8zM321.66 148.47h3.8v3.8h-3.8zM324.22 149.81h3.8v3.8h-3.8zM326.79 151.13h3.8v3.8h-3.8zM329.35 152.43h3.8v3.8h-3.8zM331.91 153.68h3.8v3.8h-3.8zM334.47 154.94h3.8v3.8h-3.8zM337.03 156.24h3.8v3.8h-3.8zM339.60 157.60h3.8v3.8h-3.8zM342.16 158.94h3.8v3.8h-3.8zM344.72 160.18h3.8v3.8h-3.8zM347.28 161.24h3.8v3.8h-3.8zM349.85 162.20h3.8v3.8h-3.8zM352.41 163.16h3.8v3.8h-3.8zM354.97 164.22h3.8v3.8h-3.8zM357.53 165.46h3.8v3.8h-3.8zM360.09 166.80h3.8v3.8h-3.8zM362.66 168.12h3.8v3.8h-3.8zM365.22 169.31h3.8v3.8h-3.8zM367.78 170.42h3.8v3.8h-3.8zM370.34 171.48h3.8v3.8h-3.8zM372.90 172.45h3.8v3.8h-3.8zM375.47 173.34h3.8v3.8h-3.8zM378.03 174.19h3.8v3.8h-3.8zM380.59 174.97h3.8v3.8h-3.8zM383.15 175.61h3.8v3.8h-3.8zM385.71 176.11h3.8v3.8h-3.8zM388.28 176.56h3.8v3.8h-3.8zM390.84 176.93h3.8v3.8h-3.8zM393.40 177.20h3.8v3.8h-3.8zM319.10 148.10h3.8v3.8h-3.8zM321.66 148.74h3.8v3.8h-3.8zM324.22 149.72h3.8v3.8h-3.8zM326.79 151.01h3.8v3.8h-3.8zM329.35 152.78h3.8v3.8h-3.8zM331.91 155.00h3.8v3.8h-3.8zM334.47 157.38h3.8v3.8h-3.8zM337.03 159.97h3.8v3.8h-3.8zM339.60 164.22h3.8v3.8h-3.8zM342.16 166.99h3.8v3.8h-3.8zM344.72 169.80h3.8v3.8h-3.8zM347.28 174.50h3.8v3.8h-3.8zM349.85 179.61h3.8v3.8h-3.8zM352.41 186.80h3.8v3.8h-3.8zM354.97 192.82h3.8v3.8h-3.8zM357.53 200.27h3.8v3.8h-3.8zM360.09 207.30h3.8v3.8h-3.8zM362.66 214.75h3.8v3.8h-3.8zM365.22 221.79h3.8v3.8h-3.8zM367.78 228.16h3.8v3.8h-3.8zM370.34 232.46h3.8v3.8h-3.8zM372.90 236.09h3.8v3.8h-3.8zM375.47 237.60h3.8v3.8h-3.8zM319.10 208.90h3.8v3.8h-3.8zM321.66 209.06h3.8v3.8h-3.8zM324.22 209.48h3.8v3.8h-3.8zM326.79 210.19h3.8v3.8h-3.8zM329.35 211.91h3.8v3.8h-3.8zM331.91 214.04h3.8v3.8h-3.8zM334.47 216.58h3.8v3.8h-3.8zM337.03 219.48h3.8v3.8h-3.8zM339.60 223.04h3.8v3.8h-3.8zM342.16 227.94h3.8v3.8h-3.8zM344.72 232.76h3.8v3.8h-3.8zM347.28 237.52h3.8v3.8h-3.8zM349.85 242.85h3.8v3.8h-3.8zM352.41 249.14h3.8v3.8h-3.8zM354.97 256.12h3.8v3.8h-3.8zM357.53 262.81h3.8v3.8h-3.8zM319.10 232.60h3.8v3.8h-3.8zM321.66 232.97h3.8v3.8h-3.8zM324.22 233.33h3.8v3.8h-3.8zM326.79 233.70h3.8v3.8h-3.8zM329.35 234.06h3.8v3.8h-3.8zM331.91 234.43h3.8v3.8h-3.8zM334.47 234.80h3.8v3.8h-3.8zM337.03 235.16h3.8v3.8h-3.8zM339.60 235.53h3.8v3.8h-3.8zM342.16 235.94h3.8v3.8h-3.8zM344.72 236.42h3.8v3.8h-3.8zM347.28 237.01h3.8v3.8h-3.8zM349.85 237.55h3.8v3.8h-3.8zM352.41 237.98h3.8v3.8h-3.8zM354.97 238.37h3.8v3.8h-3.8zM357.53 238.75h3.8v3.8h-3.8zM360.09 239.10h3.8v3.8h-3.8zM362.66 239.54h3.8v3.8h-3.8zM365.22 240.34h3.8v3.8h-3.8zM367.78 241.78h3.8v3.8h-3.8zM370.34 244.10h3.8v3.8h-3.8zM319.10 233.10h3.8v3.8h-3.8zM321.66 233.79h3.8v3.8h-3.8zM324.22 234.64h3.8v3.8h-3.8zM326.79 235.70h3.8v3.8h-3.8zM329.35 237.13h3.8v3.8h-3.8zM331.91 239.36h3.8v3.8h-3.8zM334.47 242.49h3.8v3.8h-3.8zM337.03 245.01h3.8v3.8h-3.8zM339.60 248.04h3.8v3.8h-3.8zM342.16 251.48h3.8v3.8h-3.8zM344.72 255.21h3.8v3.8h-3.8zM347.28 258.72h3.8v3.8h-3.8zM349.85 262.12h3.8v3.8h-3.8zM352.41 266.08h3.8v3.8h-3.8zM354.97 269.86h3.8v3.8h-3.8zM334.47 238.89h3.8v3.8h-3.8zM337.03 241.23h3.8v3.8h-3.8zM339.60 244.15h3.8v3.8h-3.8zM342.16 247.59h3.8v3.8h-3.8zM344.72 251.20h3.8v3.8h-3.8zM347.28 254.92h3.8v3.8h-3.8zM349.85 259.38h3.8v3.8h-3.8zM352.41 263.60h3.8v3.8h-3.8zM354.97 267.10h3.8v3.8h-3.8zM319.10 147.10h3.8v3.8h-3.8zM321.66 146.16h3.8v3.8h-3.8zM324.22 145.15h3.8v3.8h-3.8zM326.79 144.05h3.8v3.8h-3.8zM329.35 142.61h3.8v3.8h-3.8zM331.91 140.90h3.8v3.8h-3.8zM334.47 139.25h3.8v3.8h-3.8zM337.03 137.35h3.8v3.8h-3.8zM339.60 134.65h3.8v3.8h-3.8zM342.16 131.72h3.8v3.8h-3.8zM344.72 129.12h3.8v3.8h-3.8zM347.28 126.06h3.8v3.8h-3.8zM349.85 122.49h3.8v3.8h-3.8zM352.41 119.45h3.8v3.8h-3.8zM354.97 116.12h3.8v3.8h-3.8zM357.53 112.18h3.8v3.8h-3.8zM360.09 108.13h3.8v3.8h-3.8zM362.66 104.52h3.8v3.8h-3.8zM365.22 100.38h3.8v3.8h-3.8zM367.78 95.79h3.8v3.8h-3.8zM370.34 91.69h3.8v3.8h-3.8zM372.90 87.89h3.8v3.8h-3.8zM375.47 81.79h3.8v3.8h-3.8zM378.03 76.96h3.8v3.8h-3.8zM380.59 73.17h3.8v3.8h-3.8zM383.15 69.28h3.8v3.8h-3.8zM385.71 64.32h3.8v3.8h-3.8zM388.28 61.14h3.8v3.8h-3.8zM390.84 58.74h3.8v3.8h-3.8zM393.40 57.10h3.8v3.8h-3.8zM354.97 268.10h3.8v3.8h-3.8zM357.53 266.06h3.8v3.8h-3.8zM360.09 263.00h3.8v3.8h-3.8zM362.66 259.94h3.8v3.8h-3.8zM365.22 257.22h3.8v3.8h-3.8zM367.78 254.07h3.8v3.8h-3.8zM370.34 251.40h3.8v3.8h-3.8zM372.90 247.68h3.8v3.8h-3.8zM375.47 244.91h3.8v3.8h-3.8zM378.03 242.97h3.8v3.8h-3.8zM380.59 241.62h3.8v3.8h-3.8zM383.15 240.76h3.8v3.8h-3.8zM385.71 240.16h3.8v3.8h-3.8zM388.28 239.79h3.8v3.8h-3.8zM390.84 239.51h3.8v3.8h-3.8zM393.40 239.40h3.8v3.8h-3.8zM357.53 264.60h3.8v3.8h-3.8zM360.09 264.79h3.8v3.8h-3.8zM362.66 265.16h3.8v3.8h-3.8zM365.22 265.72h3.8v3.8h-3.8zM367.78 266.54h3.8v3.8h-3.8zM370.34 267.51h3.8v3.8h-3.8zM372.90 268.72h3.8v3.8h-3.8zM375.47 270.47h3.8v3.8h-3.8zM378.03 273.30h3.8v3.8h-3.8zM380.59 277.63h3.8v3.8h-3.8zM319.10 265.60h3.8v3.8h-3.8zM321.66 265.34h3.8v3.8h-3.8zM324.22 265.20h3.8v3.8h-3.8zM326.79 265.20h3.8v3.8h-3.8zM329.35 265.20h3.8v3.8h-3.8zM331.91 265.22h3.8v3.8h-3.8zM334.47 265.44h3.8v3.8h-3.8zM337.03 265.77h3.8v3.8h-3.8zM339.60 266.16h3.8v3.8h-3.8zM342.16 266.71h3.8v3.8h-3.8zM344.72 267.41h3.8v3.8h-3.8zM347.28 268.40h3.8v3.8h-3.8zM349.85 269.52h3.8v3.8h-3.8zM352.41 270.83h3.8v3.8h-3.8zM354.97 272.64h3.8v3.8h-3.8zM357.53 274.94h3.8v3.8h-3.8zM360.09 277.78h3.8v3.8h-3.8zM319.10 269.10h3.8v3.8h-3.8zM321.66 270.11h3.8v3.8h-3.8zM324.22 270.93h3.8v3.8h-3.8zM326.79 271.47h3.8v3.8h-3.8zM329.35 271.92h3.8v3.8h-3.8zM331.91 272.68h3.8v3.8h-3.8zM334.47 274.03h3.8v3.8h-3.8zM337.03 275.37h3.8v3.8h-3.8zM339.60 276.54h3.8v3.8h-3.8zM342.16 278.24h3.8v3.8h-3.8zM189.39 227.60h3.8v3.8h-3.8zM191.93 231.63h3.8v3.8h-3.8zM194.47 236.55h3.8v3.8h-3.8zM197.01 242.06h3.8v3.8h-3.8zM199.56 249.29h3.8v3.8h-3.8zM202.10 254.39h3.8v3.8h-3.8zM204.64 259.48h3.8v3.8h-3.8zM207.18 264.44h3.8v3.8h-3.8zM142.50 15.10h3.8v3.8h-3.8zM142.50 22.50h3.8v3.8h-3.8zM146.40 17.20h3.8v3.8h-3.8zM146.40 22.50h3.8v3.8h-3.8zM149.80 19.70h3.8v3.8h-3.8zM149.80 22.90h3.8v3.8h-3.8zM149.80 27.50h3.8v3.8h-3.8zM153.50 17.40h3.8v3.8h-3.8zM157.00 26.40h3.8v3.8h-3.8zM153.50 29.80h3.8v3.8h-3.8zM153.50 33.00h3.8v3.8h-3.8zM157.00 33.90h3.8v3.8h-3.8zM157.00 37.10h3.8v3.8h-3.8zM160.60 33.90h3.8v3.8h-3.8zM160.60 38.70h3.8v3.8h-3.8zM157.00 39.90h3.8v3.8h-3.8zM164.00 38.70h3.8v3.8h-3.8zM164.00 41.20h3.8v3.8h-3.8zM167.70 43.10h3.8v3.8h-3.8zM171.40 44.00h3.8v3.8h-3.8zM167.70 42.10h3.8v3.8h-3.8zM160.60 41.60h3.8v3.8h-3.8zM160.70 223.80h3.8v3.8h-3.8zM156.80 232.90h3.8v3.8h-3.8zM160.70 269.40h3.8v3.8h-3.8zM257.50 278.60h3.8v3.8h-3.8zM278.60 277.70h3.8v3.8h-3.8zM286.10 277.70h3.8v3.8h-3.8zM298.80 276.10h3.8v3.8h-3.8zM303.80 278.60h3.8v3.8h-3.8zM153.60 213.40h3.8v3.8h-3.8zM157.20 208.00h3.8v3.8h-3.8zM164.40 215.40h3.8v3.8h-3.8z" fill="#dc0028"/>
<path d="M67.20 59.90h3.6v3.6h-3.6zM70.80 59.90h3.6v3.6h-3.6zM74.41 59.90h3.6v3.6h-3.6zM78.01 59.50h3.6v3.6h-3.6zM81.61 59.20h3.6v3.6h-3.6zM85.22 58.19h3.6v3.6h-3.6zM88.82 56.59h3.6v3.6h-3.6zM92.42 54.38h3.6v3.6h-3.6zM96.03 51.17h3.6v3.6h-3.6zM99.63 46.86h3.6v3.6h-3.6zM103.23 41.75h3.6v3.6h-3.6zM106.84 35.74h3.6v3.6h-3.6zM110.44 29.73h3.6v3.6h-3.6zM114.05 23.42h3.6v3.6h-3.6zM117.65 17.62h3.6v3.6h-3.6zM67.20 120.80h3.6v3.6h-3.6zM70.80 120.50h3.6v3.6h-3.6zM74.41 117.39h3.6v3.6h-3.6zM78.01 113.88h3.6v3.6h-3.6zM81.61 109.23h3.6v3.6h-3.6zM85.22 104.90h3.6v3.6h-3.6zM88.82 100.66h3.6v3.6h-3.6zM92.42 96.37h3.6v3.6h-3.6zM96.03 92.40h3.6v3.6h-3.6zM99.63 89.85h3.6v3.6h-3.6zM103.23 87.07h3.6v3.6h-3.6zM106.84 82.50h3.6v3.6h-3.6zM110.44 76.12h3.6v3.6h-3.6zM114.05 68.79h3.6v3.6h-3.6zM117.65 61.05h3.6v3.6h-3.6zM121.25 51.85h3.6v3.6h-3.6zM124.86 43.38h3.6v3.6h-3.6zM128.46 34.42h3.6v3.6h-3.6zM132.06 25.71h3.6v3.6h-3.6zM135.67 16.97h3.6v3.6h-3.6zM67.20 125.00h3.6v3.6h-3.6zM70.80 125.00h3.6v3.6h-3.6zM74.41 123.74h3.6v3.6h-3.6zM78.01 121.11h3.6v3.6h-3.6zM81.61 118.02h3.6v3.6h-3.6zM85.22 115.03h3.6v3.6h-3.6zM88.82 111.46h3.6v3.6h-3.6zM92.42 106.77h3.6v3.6h-3.6zM96.03 101.17h3.6v3.6h-3.6zM99.63 96.30h3.6v3.6h-3.6zM103.23 91.05h3.6v3.6h-3.6zM106.84 87.99h3.6v3.6h-3.6zM110.44 87.80h3.6v3.6h-3.6zM114.05 88.31h3.6v3.6h-3.6zM117.65 88.84h3.6v3.6h-3.6zM121.25 89.51h3.6v3.6h-3.6zM124.86 90.51h3.6v3.6h-3.6zM128.46 91.79h3.6v3.6h-3.6zM132.06 92.99h3.6v3.6h-3.6zM135.67 94.31h3.6v3.6h-3.6zM139.27 96.08h3.6v3.6h-3.6zM142.87 97.78h3.6v3.6h-3.6zM146.48 99.33h3.6v3.6h-3.6zM150.08 101.08h3.6v3.6h-3.6zM153.68 102.71h3.6v3.6h-3.6zM157.29 104.01h3.6v3.6h-3.6zM160.89 105.37h3.6v3.6h-3.6zM164.49 106.65h3.6v3.6h-3.6zM168.10 107.38h3.6v3.6h-3.6zM171.70 107.60h3.6v3.6h-3.6zM67.20 145.70h3.6v3.6h-3.6zM70.80 145.50h3.6v3.6h-3.6zM74.41 145.80h3.6v3.6h-3.6zM78.01 144.54h3.6v3.6h-3.6zM81.61 140.36h3.6v3.6h-3.6zM85.22 135.46h3.6v3.6h-3.6zM88.82 130.27h3.6v3.6h-3.6zM92.42 124.15h3.6v3.6h-3.6zM96.03 116.64h3.6v3.6h-3.6zM99.63 109.65h3.6v3.6h-3.6zM103.23 101.22h3.6v3.6h-3.6zM106.84 94.22h3.6v3.6h-3.6zM110.44 86.52h3.6v3.6h-3.6zM114.05 79.52h3.6v3.6h-3.6zM117.65 73.11h3.6v3.6h-3.6zM121.25 68.04h3.6v3.6h-3.6zM124.86 63.01h3.6v3.6h-3.6zM128.46 59.75h3.6v3.6h-3.6zM132.06 57.72h3.6v3.6h-3.6zM135.67 56.14h3.6v3.6h-3.6zM139.27 55.60h3.6v3.6h-3.6zM142.87 56.19h3.6v3.6h-3.6zM146.48 57.53h3.6v3.6h-3.6zM150.08 58.88h3.6v3.6h-3.6zM153.68 60.79h3.6v3.6h-3.6zM157.29 62.54h3.6v3.6h-3.6zM160.89 64.30h3.6v3.6h-3.6zM164.49 66.27h3.6v3.6h-3.6zM168.10 67.17h3.6v3.6h-3.6zM171.70 67.50h3.6v3.6h-3.6zM67.20 148.50h3.6v3.6h-3.6zM70.80 148.90h3.6v3.6h-3.6zM74.41 149.20h3.6v3.6h-3.6zM78.01 150.00h3.6v3.6h-3.6zM81.61 152.31h3.6v3.6h-3.6zM85.22 156.32h3.6v3.6h-3.6zM88.82 159.51h3.6v3.6h-3.6zM92.42 161.56h3.6v3.6h-3.6zM96.03 163.11h3.6v3.6h-3.6zM99.63 164.17h3.6v3.6h-3.6zM103.23 164.83h3.6v3.6h-3.6zM106.84 165.22h3.6v3.6h-3.6zM110.44 165.46h3.6v3.6h-3.6zM114.05 165.44h3.6v3.6h-3.6zM117.65 165.17h3.6v3.6h-3.6zM121.25 164.88h3.6v3.6h-3.6zM124.86 164.52h3.6v3.6h-3.6zM128.46 164.16h3.6v3.6h-3.6zM132.06 163.74h3.6v3.6h-3.6zM135.67 163.22h3.6v3.6h-3.6zM139.27 162.78h3.6v3.6h-3.6zM142.87 162.45h3.6v3.6h-3.6zM146.48 162.12h3.6v3.6h-3.6zM150.08 161.75h3.6v3.6h-3.6zM153.68 161.60h3.6v3.6h-3.6zM157.29 161.60h3.6v3.6h-3.6zM160.89 161.60h3.6v3.6h-3.6zM164.49 161.63h3.6v3.6h-3.6zM168.10 161.72h3.6v3.6h-3.6zM171.70 161.80h3.6v3.6h-3.6zM174.24 161.83h3.6v3.6h-3.6zM176.78 161.84h3.6v3.6h-3.6zM179.32 161.86h3.6v3.6h-3.6zM181.87 161.88h3.6v3.6h-3.6zM184.41 161.90h3.6v3.6h-3.6zM186.95 161.93h3.6v3.6h-3.6zM189.49 161.95h3.6v3.6h-3.6zM192.03 161.99h3.6v3.6h-3.6zM194.57 162.03h3.6v3.6h-3.6zM197.11 162.10h3.6v3.6h-3.6zM199.66 162.46h3.6v3.6h-3.6zM202.20 163.21h3.6v3.6h-3.6zM204.74 164.15h3.6v3.6h-3.6zM207.28 165.06h3.6v3.6h-3.6zM209.82 166.03h3.6v3.6h-3.6zM212.36 167.09h3.6v3.6h-3.6zM214.90 168.18h3.6v3.6h-3.6zM217.44 169.23h3.6v3.6h-3.6zM219.99 170.31h3.6v3.6h-3.6zM222.53 171.39h3.6v3.6h-3.6zM225.07 172.37h3.6v3.6h-3.6zM227.61 173.25h3.6v3.6h-3.6zM230.15 174.12h3.6v3.6h-3.6zM232.69 174.88h3.6v3.6h-3.6zM235.23 175.43h3.6v3.6h-3.6zM237.78 175.79h3.6v3.6h-3.6zM240.32 176.10h3.6v3.6h-3.6zM242.86 176.32h3.6v3.6h-3.6zM245.40 176.40h3.6v3.6h-3.6zM247.94 176.29h3.6v3.6h-3.6zM250.49 176.01h3.6v3.6h-3.6zM253.03 175.67h3.6v3.6h-3.6zM255.58 175.15h3.6v3.6h-3.6zM258.12 174.43h3.6v3.6h-3.6zM260.67 173.65h3.6v3.6h-3.6zM263.21 172.77h3.6v3.6h-3.6zM265.76 171.77h3.6v3.6h-3.6zM268.30 170.73h3.6v3.6h-3.6zM270.85 169.70h3.6v3.6h-3.6zM273.39 168.68h3.6v3.6h-3.6zM275.94 167.65h3.6v3.6h-3.6zM278.48 166.58h3.6v3.6h-3.6zM281.03 165.45h3.6v3.6h-3.6zM283.57 164.26h3.6v3.6h-3.6zM286.12 163.03h3.6v3.6h-3.6zM288.66 161.77h3.6v3.6h-3.6zM291.21 160.48h3.6v3.6h-3.6zM293.75 159.16h3.6v3.6h-3.6zM296.30 157.82h3.6v3.6h-3.6zM298.84 156.48h3.6v3.6h-3.6zM301.39 155.13h3.6v3.6h-3.6zM303.93 153.75h3.6v3.6h-3.6zM306.48 152.44h3.6v3.6h-3.6zM309.02 151.26h3.6v3.6h-3.6zM311.57 150.20h3.6v3.6h-3.6zM314.11 149.21h3.6v3.6h-3.6zM316.65 148.31h3.6v3.6h-3.6zM319.20 147.50h3.6v3.6h-3.6zM245.40 176.70h3.6v3.6h-3.6zM247.94 176.67h3.6v3.6h-3.6zM250.49 176.59h3.6v3.6h-3.6zM253.03 176.49h3.6v3.6h-3.6zM255.58 176.27h3.6v3.6h-3.6zM258.12 175.91h3.6v3.6h-3.6zM260.67 175.47h3.6v3.6h-3.6zM263.21 174.85h3.6v3.6h-3.6zM265.76 174.04h3.6v3.6h-3.6zM268.30 173.13h3.6v3.6h-3.6zM270.85 172.24h3.6v3.6h-3.6zM273.39 171.32h3.6v3.6h-3.6zM275.94 170.36h3.6v3.6h-3.6zM278.48 169.34h3.6v3.6h-3.6zM281.03 168.28h3.6v3.6h-3.6zM283.57 167.16h3.6v3.6h-3.6zM286.12 165.98h3.6v3.6h-3.6zM288.66 164.76h3.6v3.6h-3.6zM291.21 163.50h3.6v3.6h-3.6zM293.75 162.20h3.6v3.6h-3.6zM296.30 160.85h3.6v3.6h-3.6zM298.84 159.49h3.6v3.6h-3.6zM301.39 158.11h3.6v3.6h-3.6zM303.93 156.71h3.6v3.6h-3.6zM306.48 155.28h3.6v3.6h-3.6zM309.02 153.81h3.6v3.6h-3.6zM311.57 152.23h3.6v3.6h-3.6zM314.11 150.75h3.6v3.6h-3.6zM316.65 149.53h3.6v3.6h-3.6zM319.20 148.50h3.6v3.6h-3.6zM67.20 148.90h3.6v3.6h-3.6zM70.80 149.20h3.6v3.6h-3.6zM74.41 151.30h3.6v3.6h-3.6zM78.01 153.51h3.6v3.6h-3.6zM81.61 156.21h3.6v3.6h-3.6zM85.22 158.71h3.6v3.6h-3.6zM88.82 161.72h3.6v3.6h-3.6zM92.42 166.33h3.6v3.6h-3.6zM96.03 171.84h3.6v3.6h-3.6zM99.63 177.75h3.6v3.6h-3.6zM103.23 184.26h3.6v3.6h-3.6zM106.84 190.67h3.6v3.6h-3.6zM110.44 196.97h3.6v3.6h-3.6zM114.05 202.77h3.6v3.6h-3.6zM117.65 208.17h3.6v3.6h-3.6zM121.25 213.47h3.6v3.6h-3.6zM124.86 217.96h3.6v3.6h-3.6zM128.46 221.56h3.6v3.6h-3.6zM132.06 224.84h3.6v3.6h-3.6zM135.67 226.31h3.6v3.6h-3.6zM139.27 226.60h3.6v3.6h-3.6zM142.87 225.36h3.6v3.6h-3.6zM146.48 221.80h3.6v3.6h-3.6zM150.08 215.57h3.6v3.6h-3.6zM153.68 209.77h3.6v3.6h-3.6zM157.29 204.22h3.6v3.6h-3.6zM160.89 200.41h3.6v3.6h-3.6zM164.49 196.91h3.6v3.6h-3.6zM168.10 194.50h3.6v3.6h-3.6zM171.70 193.30h3.6v3.6h-3.6zM174.24 194.03h3.6v3.6h-3.6zM176.78 195.18h3.6v3.6h-3.6zM179.32 196.40h3.6v3.6h-3.6zM181.87 197.80h3.6v3.6h-3.6zM184.41 199.35h3.6v3.6h-3.6zM186.95 201.16h3.6v3.6h-3.6zM189.49 203.41h3.6v3.6h-3.6zM192.03 206.11h3.6v3.6h-3.6zM194.57 209.07h3.6v3.6h-3.6zM197.11 212.22h3.6v3.6h-3.6zM199.66 215.24h3.6v3.6h-3.6zM202.20 218.38h3.6v3.6h-3.6zM204.74 221.88h3.6v3.6h-3.6zM207.28 225.33h3.6v3.6h-3.6zM209.82 228.55h3.6v3.6h-3.6zM212.36 231.75h3.6v3.6h-3.6zM214.90 234.29h3.6v3.6h-3.6zM217.44 235.83h3.6v3.6h-3.6zM219.99 236.84h3.6v3.6h-3.6zM222.53 237.46h3.6v3.6h-3.6zM225.07 237.95h3.6v3.6h-3.6zM227.61 238.19h3.6v3.6h-3.6zM230.15 238.20h3.6v3.6h-3.6zM232.69 238.20h3.6v3.6h-3.6zM235.23 238.20h3.6v3.6h-3.6zM237.78 238.20h3.6v3.6h-3.6zM240.32 238.14h3.6v3.6h-3.6zM242.86 237.95h3.6v3.6h-3.6zM245.40 237.70h3.6v3.6h-3.6zM67.20 208.80h3.6v3.6h-3.6zM70.80 209.67h3.6v3.6h-3.6zM74.41 211.48h3.6v3.6h-3.6zM78.01 213.61h3.6v3.6h-3.6zM81.61 216.24h3.6v3.6h-3.6zM85.22 220.62h3.6v3.6h-3.6zM88.82 225.43h3.6v3.6h-3.6zM92.42 230.53h3.6v3.6h-3.6zM96.03 235.54h3.6v3.6h-3.6zM99.63 241.25h3.6v3.6h-3.6zM103.23 247.15h3.6v3.6h-3.6zM106.84 252.86h3.6v3.6h-3.6zM110.44 258.26h3.6v3.6h-3.6zM114.05 263.44h3.6v3.6h-3.6zM117.65 265.90h3.6v3.6h-3.6zM121.25 264.68h3.6v3.6h-3.6zM124.86 262.96h3.6v3.6h-3.6zM128.46 259.02h3.6v3.6h-3.6zM132.06 252.69h3.6v3.6h-3.6zM135.67 246.19h3.6v3.6h-3.6zM139.27 240.38h3.6v3.6h-3.6zM142.87 233.88h3.6v3.6h-3.6zM146.48 227.86h3.6v3.6h-3.6zM150.08 221.00h3.6v3.6h-3.6zM153.68 217.33h3.6v3.6h-3.6zM157.29 214.64h3.6v3.6h-3.6zM160.89 212.45h3.6v3.6h-3.6zM164.49 210.70h3.6v3.6h-3.6zM168.10 209.80h3.6v3.6h-3.6zM171.70 209.50h3.6v3.6h-3.6zM174.24 210.18h3.6v3.6h-3.6zM176.78 211.93h3.6v3.6h-3.6zM179.32 214.79h3.6v3.6h-3.6zM181.87 218.03h3.6v3.6h-3.6zM184.41 222.07h3.6v3.6h-3.6zM186.95 227.10h3.6v3.6h-3.6zM189.49 232.40h3.6v3.6h-3.6zM192.03 239.20h3.6v3.6h-3.6zM194.57 246.52h3.6v3.6h-3.6zM197.11 252.99h3.6v3.6h-3.6zM199.66 259.09h3.6v3.6h-3.6zM202.20 265.19h3.6v3.6h-3.6zM204.74 271.29h3.6v3.6h-3.6zM207.28 277.37h3.6v3.6h-3.6zM67.20 229.70h3.6v3.6h-3.6zM70.80 230.10h3.6v3.6h-3.6zM74.41 231.20h3.6v3.6h-3.6zM78.01 232.60h3.6v3.6h-3.6zM81.61 234.01h3.6v3.6h-3.6zM85.22 235.51h3.6v3.6h-3.6zM88.82 236.51h3.6v3.6h-3.6zM92.42 238.41h3.6v3.6h-3.6zM96.03 240.61h3.6v3.6h-3.6zM99.63 242.01h3.6v3.6h-3.6zM103.23 244.02h3.6v3.6h-3.6zM106.84 246.63h3.6v3.6h-3.6zM110.44 249.53h3.6v3.6h-3.6zM114.05 252.43h3.6v3.6h-3.6zM117.65 254.83h3.6v3.6h-3.6zM121.25 256.50h3.6v3.6h-3.6zM124.86 254.66h3.6v3.6h-3.6zM128.46 250.63h3.6v3.6h-3.6zM132.06 245.91h3.6v3.6h-3.6zM135.67 240.39h3.6v3.6h-3.6zM139.27 233.88h3.6v3.6h-3.6zM142.87 228.30h3.6v3.6h-3.6zM67.20 233.60h3.6v3.6h-3.6zM70.80 234.00h3.6v3.6h-3.6zM74.41 234.80h3.6v3.6h-3.6zM78.01 236.91h3.6v3.6h-3.6zM81.61 239.11h3.6v3.6h-3.6zM85.22 242.32h3.6v3.6h-3.6zM88.82 247.13h3.6v3.6h-3.6zM92.42 251.53h3.6v3.6h-3.6zM96.03 255.33h3.6v3.6h-3.6zM99.63 260.54h3.6v3.6h-3.6zM103.23 263.93h3.6v3.6h-3.6zM106.84 267.83h3.6v3.6h-3.6zM110.44 270.20h3.6v3.6h-3.6zM114.05 269.69h3.6v3.6h-3.6zM117.65 268.68h3.6v3.6h-3.6zM121.25 266.68h3.6v3.6h-3.6zM124.86 265.88h3.6v3.6h-3.6zM128.46 264.70h3.6v3.6h-3.6zM132.06 266.33h3.6v3.6h-3.6zM135.67 268.70h3.6v3.6h-3.6zM139.27 267.97h3.6v3.6h-3.6zM142.87 262.09h3.6v3.6h-3.6zM146.48 257.09h3.6v3.6h-3.6zM150.08 251.29h3.6v3.6h-3.6zM153.68 247.13h3.6v3.6h-3.6zM157.29 244.66h3.6v3.6h-3.6zM160.89 243.17h3.6v3.6h-3.6zM164.49 242.20h3.6v3.6h-3.6zM168.10 241.50h3.6v3.6h-3.6zM171.70 241.20h3.6v3.6h-3.6zM174.24 241.47h3.6v3.6h-3.6zM176.78 241.96h3.6v3.6h-3.6zM179.32 242.72h3.6v3.6h-3.6zM181.87 244.09h3.6v3.6h-3.6zM184.41 245.96h3.6v3.6h-3.6zM186.95 248.14h3.6v3.6h-3.6zM189.49 251.88h3.6v3.6h-3.6zM192.03 255.69h3.6v3.6h-3.6zM194.57 259.59h3.6v3.6h-3.6zM197.11 264.72h3.6v3.6h-3.6zM199.66 269.89h3.6v3.6h-3.6zM202.20 279.19h3.6v3.6h-3.6zM67.20 266.30h3.6v3.6h-3.6zM70.80 266.30h3.6v3.6h-3.6zM74.41 266.30h3.6v3.6h-3.6zM78.01 266.30h3.6v3.6h-3.6zM81.61 267.30h3.6v3.6h-3.6zM85.22 267.80h3.6v3.6h-3.6zM88.82 268.71h3.6v3.6h-3.6zM92.42 269.71h3.6v3.6h-3.6zM96.03 271.21h3.6v3.6h-3.6zM99.63 273.12h3.6v3.6h-3.6zM103.23 276.03h3.6v3.6h-3.6zM106.84 278.70h3.6v3.6h-3.6zM67.20 268.50h3.6v3.6h-3.6zM70.80 268.70h3.6v3.6h-3.6zM74.41 269.70h3.6v3.6h-3.6zM78.01 272.10h3.6v3.6h-3.6zM81.61 273.20h3.6v3.6h-3.6zM85.22 274.01h3.6v3.6h-3.6zM88.82 276.51h3.6v3.6h-3.6zM92.42 277.71h3.6v3.6h-3.6zM96.03 279.20h3.6v3.6h-3.6zM110.44 274.06h3.6v3.6h-3.6zM114.05 277.40h3.6v3.6h-3.6zM117.65 277.40h3.6v3.6h-3.6zM121.25 273.10h3.6v3.6h-3.6zM124.86 277.90h3.6v3.6h-3.6zM150.08 274.14h3.6v3.6h-3.6zM153.68 270.81h3.6v3.6h-3.6zM157.29 266.50h3.6v3.6h-3.6zM160.89 262.11h3.6v3.6h-3.6zM164.49 259.30h3.6v3.6h-3.6zM168.10 257.90h3.6v3.6h-3.6zM171.70 257.00h3.6v3.6h-3.6zM174.24 257.19h3.6v3.6h-3.6zM176.78 258.37h3.6v3.6h-3.6zM179.32 261.25h3.6v3.6h-3.6zM181.87 265.17h3.6v3.6h-3.6zM184.41 268.78h3.6v3.6h-3.6zM186.95 271.47h3.6v3.6h-3.6zM189.49 273.00h3.6v3.6h-3.6zM192.03 273.88h3.6v3.6h-3.6zM194.57 274.64h3.6v3.6h-3.6zM197.11 275.37h3.6v3.6h-3.6zM199.66 276.16h3.6v3.6h-3.6zM202.20 277.00h3.6v3.6h-3.6zM204.74 277.70h3.6v3.6h-3.6zM139.27 274.50h3.6v3.6h-3.6zM142.87 274.50h3.6v3.6h-3.6zM146.48 274.50h3.6v3.6h-3.6zM150.08 275.02h3.6v3.6h-3.6zM153.68 276.22h3.6v3.6h-3.6zM157.29 276.71h3.6v3.6h-3.6zM160.89 277.40h3.6v3.6h-3.6zM164.49 275.20h3.6v3.6h-3.6zM168.10 273.80h3.6v3.6h-3.6zM171.70 273.10h3.6v3.6h-3.6zM174.24 273.21h3.6v3.6h-3.6zM176.78 273.46h3.6v3.6h-3.6zM179.32 273.71h3.6v3.6h-3.6zM181.87 273.93h3.6v3.6h-3.6zM184.41 274.17h3.6v3.6h-3.6zM186.95 274.44h3.6v3.6h-3.6zM189.49 274.75h3.6v3.6h-3.6zM192.03 275.13h3.6v3.6h-3.6zM194.57 275.58h3.6v3.6h-3.6zM197.11 276.14h3.6v3.6h-3.6zM199.66 276.86h3.6v3.6h-3.6zM202.20 277.70h3.6v3.6h-3.6zM142.87 24.71h3.6v3.6h-3.6zM146.48 33.04h3.6v3.6h-3.6zM150.08 44.11h3.6v3.6h-3.6zM153.68 53.66h3.6v3.6h-3.6zM157.29 62.12h3.6v3.6h-3.6zM160.89 69.85h3.6v3.6h-3.6zM164.49 75.43h3.6v3.6h-3.6zM168.10 78.98h3.6v3.6h-3.6zM171.70 80.50h3.6v3.6h-3.6zM157.29 40.38h3.6v3.6h-3.6zM160.89 47.13h3.6v3.6h-3.6zM164.49 52.85h3.6v3.6h-3.6zM168.10 56.55h3.6v3.6h-3.6zM171.70 57.70h3.6v3.6h-3.6zM171.70 43.70h3.6v3.6h-3.6zM174.24 43.38h3.6v3.6h-3.6zM176.78 43.02h3.6v3.6h-3.6zM179.32 42.61h3.6v3.6h-3.6zM181.87 42.16h3.6v3.6h-3.6zM184.41 41.65h3.6v3.6h-3.6zM186.95 41.07h3.6v3.6h-3.6zM189.49 40.42h3.6v3.6h-3.6zM192.03 39.74h3.6v3.6h-3.6zM194.57 39.05h3.6v3.6h-3.6zM197.11 38.40h3.6v3.6h-3.6zM199.66 37.76h3.6v3.6h-3.6zM202.20 37.11h3.6v3.6h-3.6zM204.74 36.46h3.6v3.6h-3.6zM207.28 35.83h3.6v3.6h-3.6zM209.82 35.21h3.6v3.6h-3.6zM212.36 34.63h3.6v3.6h-3.6zM214.90 34.08h3.6v3.6h-3.6zM217.44 33.55h3.6v3.6h-3.6zM219.99 33.22h3.6v3.6h-3.6zM222.53 32.98h3.6v3.6h-3.6zM225.07 32.75h3.6v3.6h-3.6zM227.61 32.54h3.6v3.6h-3.6zM230.15 32.34h3.6v3.6h-3.6zM232.69 32.16h3.6v3.6h-3.6zM235.23 32.00h3.6v3.6h-3.6zM237.78 31.85h3.6v3.6h-3.6zM240.32 31.72h3.6v3.6h-3.6zM242.86 31.60h3.6v3.6h-3.6zM245.40 31.50h3.6v3.6h-3.6zM171.70 43.70h3.6v3.6h-3.6zM174.24 42.17h3.6v3.6h-3.6zM176.78 40.41h3.6v3.6h-3.6zM179.32 37.97h3.6v3.6h-3.6zM181.87 34.46h3.6v3.6h-3.6zM184.41 29.29h3.6v3.6h-3.6zM186.95 23.69h3.6v3.6h-3.6zM189.49 17.72h3.6v3.6h-3.6zM174.24 43.19h3.6v3.6h-3.6zM176.78 42.01h3.6v3.6h-3.6zM179.32 39.68h3.6v3.6h-3.6zM181.87 36.75h3.6v3.6h-3.6zM184.41 32.79h3.6v3.6h-3.6zM186.95 26.90h3.6v3.6h-3.6zM189.49 21.82h3.6v3.6h-3.6zM192.03 15.00h3.6v3.6h-3.6zM171.70 57.70h3.6v3.6h-3.6zM174.24 55.47h3.6v3.6h-3.6zM176.78 54.01h3.6v3.6h-3.6zM179.32 51.77h3.6v3.6h-3.6zM181.87 47.58h3.6v3.6h-3.6zM184.41 42.18h3.6v3.6h-3.6zM186.95 36.59h3.6v3.6h-3.6zM189.49 30.33h3.6v3.6h-3.6zM192.03 22.60h3.6v3.6h-3.6zM171.70 80.40h3.6v3.6h-3.6zM174.24 78.67h3.6v3.6h-3.6zM176.78 76.71h3.6v3.6h-3.6zM179.32 74.47h3.6v3.6h-3.6zM181.87 70.89h3.6v3.6h-3.6zM184.41 66.18h3.6v3.6h-3.6zM186.95 59.57h3.6v3.6h-3.6zM189.49 52.73h3.6v3.6h-3.6zM192.03 45.10h3.6v3.6h-3.6zM194.57 36.79h3.6v3.6h-3.6zM197.11 28.65h3.6v3.6h-3.6zM199.66 20.44h3.6v3.6h-3.6zM207.28 18.47h3.6v3.6h-3.6zM209.82 22.02h3.6v3.6h-3.6zM212.36 25.18h3.6v3.6h-3.6zM214.90 28.36h3.6v3.6h-3.6zM217.44 31.55h3.6v3.6h-3.6zM219.99 33.96h3.6v3.6h-3.6zM222.53 37.04h3.6v3.6h-3.6zM225.07 39.85h3.6v3.6h-3.6zM227.61 42.40h3.6v3.6h-3.6zM230.15 44.70h3.6v3.6h-3.6zM232.69 46.55h3.6v3.6h-3.6zM235.23 48.31h3.6v3.6h-3.6zM237.78 49.23h3.6v3.6h-3.6zM240.32 50.04h3.6v3.6h-3.6zM242.86 50.50h3.6v3.6h-3.6zM245.40 50.70h3.6v3.6h-3.6zM171.70 67.50h3.6v3.6h-3.6zM174.24 66.44h3.6v3.6h-3.6zM176.78 65.51h3.6v3.6h-3.6zM179.32 64.60h3.6v3.6h-3.6zM181.87 63.57h3.6v3.6h-3.6zM184.41 61.58h3.6v3.6h-3.6zM186.95 59.98h3.6v3.6h-3.6zM189.49 58.80h3.6v3.6h-3.6zM192.03 57.58h3.6v3.6h-3.6zM192.03 57.50h3.6v3.6h-3.6zM194.57 56.82h3.6v3.6h-3.6zM197.11 55.92h3.6v3.6h-3.6zM199.66 55.31h3.6v3.6h-3.6zM202.20 54.98h3.6v3.6h-3.6zM204.74 54.90h3.6v3.6h-3.6zM207.28 54.90h3.6v3.6h-3.6zM209.82 54.93h3.6v3.6h-3.6zM212.36 55.18h3.6v3.6h-3.6zM214.90 55.59h3.6v3.6h-3.6zM217.44 56.02h3.6v3.6h-3.6zM219.99 56.33h3.6v3.6h-3.6zM222.53 56.61h3.6v3.6h-3.6zM225.07 56.88h3.6v3.6h-3.6zM227.61 57.13h3.6v3.6h-3.6zM230.15 57.38h3.6v3.6h-3.6zM232.69 57.62h3.6v3.6h-3.6zM235.23 57.85h3.6v3.6h-3.6zM237.78 58.07h3.6v3.6h-3.6zM240.32 58.29h3.6v3.6h-3.6zM242.86 58.50h3.6v3.6h-3.6zM245.40 58.70h3.6v3.6h-3.6zM171.70 107.60h3.6v3.6h-3.6zM174.24 106.80h3.6v3.6h-3.6zM176.78 105.90h3.6v3.6h-3.6zM179.32 104.90h3.6v3.6h-3.6zM181.87 103.79h3.6v3.6h-3.6zM184.41 102.55h3.6v3.6h-3.6zM186.95 101.20h3.6v3.6h-3.6zM189.49 99.77h3.6v3.6h-3.6zM192.03 98.21h3.6v3.6h-3.6zM194.57 96.47h3.6v3.6h-3.6zM197.11 94.36h3.6v3.6h-3.6zM199.66 91.92h3.6v3.6h-3.6zM202.20 89.71h3.6v3.6h-3.6zM204.74 87.69h3.6v3.6h-3.6zM207.28 85.46h3.6v3.6h-3.6zM209.82 82.57h3.6v3.6h-3.6zM212.36 78.78h3.6v3.6h-3.6zM214.90 75.66h3.6v3.6h-3.6zM217.44 72.70h3.6v3.6h-3.6zM219.99 69.32h3.6v3.6h-3.6zM222.53 65.81h3.6v3.6h-3.6zM225.07 63.13h3.6v3.6h-3.6zM227.61 60.49h3.6v3.6h-3.6zM230.15 57.83h3.6v3.6h-3.6zM232.69 55.58h3.6v3.6h-3.6zM235.23 53.92h3.6v3.6h-3.6zM237.78 52.61h3.6v3.6h-3.6zM240.32 51.54h3.6v3.6h-3.6zM242.86 50.95h3.6v3.6h-3.6zM245.40 50.70h3.6v3.6h-3.6zM171.70 193.70h3.6v3.6h-3.6zM174.24 195.59h3.6v3.6h-3.6zM176.78 198.23h3.6v3.6h-3.6zM179.32 201.85h3.6v3.6h-3.6zM181.87 205.08h3.6v3.6h-3.6zM184.41 208.67h3.6v3.6h-3.6zM186.95 213.16h3.6v3.6h-3.6zM189.49 217.33h3.6v3.6h-3.6zM192.03 221.37h3.6v3.6h-3.6zM194.57 225.66h3.6v3.6h-3.6zM197.11 229.52h3.6v3.6h-3.6zM199.66 232.35h3.6v3.6h-3.6zM202.20 234.52h3.6v3.6h-3.6zM204.74 236.23h3.6v3.6h-3.6zM207.28 237.36h3.6v3.6h-3.6zM209.82 238.15h3.6v3.6h-3.6zM212.36 238.64h3.6v3.6h-3.6zM204.74 267.75h3.6v3.6h-3.6zM207.28 264.33h3.6v3.6h-3.6zM209.82 261.68h3.6v3.6h-3.6zM212.36 259.24h3.6v3.6h-3.6zM214.90 256.73h3.6v3.6h-3.6zM217.44 254.20h3.6v3.6h-3.6zM219.99 251.32h3.6v3.6h-3.6zM222.53 248.19h3.6v3.6h-3.6zM225.07 245.82h3.6v3.6h-3.6zM227.61 244.06h3.6v3.6h-3.6zM230.15 242.55h3.6v3.6h-3.6zM232.69 241.10h3.6v3.6h-3.6zM235.23 239.95h3.6v3.6h-3.6zM237.78 239.20h3.6v3.6h-3.6zM240.32 238.55h3.6v3.6h-3.6zM242.86 238.09h3.6v3.6h-3.6zM245.40 237.90h3.6v3.6h-3.6zM209.82 268.20h3.6v3.6h-3.6zM212.36 267.73h3.6v3.6h-3.6zM214.90 267.15h3.6v3.6h-3.6zM217.44 266.54h3.6v3.6h-3.6zM219.99 265.84h3.6v3.6h-3.6zM222.53 265.19h3.6v3.6h-3.6zM225.07 264.76h3.6v3.6h-3.6zM227.61 264.44h3.6v3.6h-3.6zM230.15 264.18h3.6v3.6h-3.6zM232.69 263.97h3.6v3.6h-3.6zM235.23 263.80h3.6v3.6h-3.6zM237.78 263.63h3.6v3.6h-3.6zM240.32 263.49h3.6v3.6h-3.6zM242.86 263.38h3.6v3.6h-3.6zM245.40 263.30h3.6v3.6h-3.6zM212.36 241.36h3.6v3.6h-3.6zM214.90 243.87h3.6v3.6h-3.6zM217.44 246.47h3.6v3.6h-3.6zM219.99 249.24h3.6v3.6h-3.6zM222.53 252.81h3.6v3.6h-3.6zM225.07 256.63h3.6v3.6h-3.6zM227.61 260.41h3.6v3.6h-3.6zM230.15 264.29h3.6v3.6h-3.6zM232.69 268.13h3.6v3.6h-3.6zM235.23 271.89h3.6v3.6h-3.6zM237.78 275.88h3.6v3.6h-3.6zM204.74 241.59h3.6v3.6h-3.6zM207.28 242.20h3.6v3.6h-3.6zM209.82 242.77h3.6v3.6h-3.6zM212.36 243.30h3.6v3.6h-3.6zM214.90 243.77h3.6v3.6h-3.6zM217.44 244.20h3.6v3.6h-3.6zM219.99 244.59h3.6v3.6h-3.6zM222.53 244.96h3.6v3.6h-3.6zM225.07 245.30h3.6v3.6h-3.6zM227.61 245.63h3.6v3.6h-3.6zM230.15 245.94h3.6v3.6h-3.6zM232.69 246.23h3.6v3.6h-3.6zM235.23 246.52h3.6v3.6h-3.6zM237.78 246.79h3.6v3.6h-3.6zM240.32 247.05h3.6v3.6h-3.6zM242.86 247.28h3.6v3.6h-3.6zM245.40 247.50h3.6v3.6h-3.6zM245.40 30.70h3.6v3.6h-3.6zM247.94 28.57h3.6v3.6h-3.6zM250.49 26.56h3.6v3.6h-3.6zM253.03 24.48h3.6v3.6h-3.6zM255.58 21.78h3.6v3.6h-3.6zM258.12 18.82h3.6v3.6h-3.6zM260.67 15.44h3.6v3.6h-3.6zM265.76 15.98h3.6v3.6h-3.6zM268.30 19.97h3.6v3.6h-3.6zM270.85 25.81h3.6v3.6h-3.6zM273.39 32.35h3.6v3.6h-3.6zM275.94 39.82h3.6v3.6h-3.6zM278.48 45.70h3.6v3.6h-3.6zM281.03 50.80h3.6v3.6h-3.6zM283.57 57.77h3.6v3.6h-3.6zM286.12 63.59h3.6v3.6h-3.6zM288.66 70.94h3.6v3.6h-3.6zM291.21 77.32h3.6v3.6h-3.6zM293.75 83.62h3.6v3.6h-3.6zM296.30 88.89h3.6v3.6h-3.6zM298.84 94.07h3.6v3.6h-3.6zM301.39 98.82h3.6v3.6h-3.6zM303.93 103.08h3.6v3.6h-3.6zM306.48 107.12h3.6v3.6h-3.6zM309.02 110.85h3.6v3.6h-3.6zM311.57 114.12h3.6v3.6h-3.6zM314.11 116.80h3.6v3.6h-3.6zM316.65 118.70h3.6v3.6h-3.6zM319.20 120.00h3.6v3.6h-3.6zM245.40 43.20h3.6v3.6h-3.6zM247.94 43.40h3.6v3.6h-3.6zM250.49 42.34h3.6v3.6h-3.6zM253.03 41.37h3.6v3.6h-3.6zM255.58 40.92h3.6v3.6h-3.6zM258.12 40.98h3.6v3.6h-3.6zM260.67 41.27h3.6v3.6h-3.6zM263.21 42.39h3.6v3.6h-3.6zM265.76 43.66h3.6v3.6h-3.6zM268.30 44.95h3.6v3.6h-3.6zM270.85 46.19h3.6v3.6h-3.6zM273.39 47.45h3.6v3.6h-3.6zM275.94 48.76h3.6v3.6h-3.6zM278.48 50.02h3.6v3.6h-3.6zM281.03 51.26h3.6v3.6h-3.6zM283.57 52.63h3.6v3.6h-3.6zM286.12 53.71h3.6v3.6h-3.6zM288.66 54.52h3.6v3.6h-3.6zM291.21 55.43h3.6v3.6h-3.6zM293.75 56.21h3.6v3.6h-3.6zM296.30 56.74h3.6v3.6h-3.6zM298.84 57.17h3.6v3.6h-3.6zM301.39 57.59h3.6v3.6h-3.6zM303.93 57.97h3.6v3.6h-3.6zM306.48 58.32h3.6v3.6h-3.6zM309.02 58.64h3.6v3.6h-3.6zM311.57 58.99h3.6v3.6h-3.6zM314.11 59.33h3.6v3.6h-3.6zM316.65 59.59h3.6v3.6h-3.6zM319.20 59.70h3.6v3.6h-3.6zM321.76 59.67h3.6v3.6h-3.6zM324.32 59.59h3.6v3.6h-3.6zM326.89 59.45h3.6v3.6h-3.6zM329.45 59.27h3.6v3.6h-3.6zM332.01 59.05h3.6v3.6h-3.6zM334.57 58.80h3.6v3.6h-3.6zM337.13 58.43h3.6v3.6h-3.6zM339.70 57.71h3.6v3.6h-3.6zM342.26 56.77h3.6v3.6h-3.6zM344.82 55.80h3.6v3.6h-3.6zM347.38 54.82h3.6v3.6h-3.6zM349.94 53.74h3.6v3.6h-3.6zM352.51 52.61h3.6v3.6h-3.6zM355.07 51.48h3.6v3.6h-3.6zM357.63 50.32h3.6v3.6h-3.6zM360.19 49.20h3.6v3.6h-3.6zM362.75 48.21h3.6v3.6h-3.6zM365.32 47.27h3.6v3.6h-3.6zM367.88 46.42h3.6v3.6h-3.6zM370.44 45.78h3.6v3.6h-3.6zM373.00 45.24h3.6v3.6h-3.6zM375.57 44.78h3.6v3.6h-3.6zM378.13 44.37h3.6v3.6h-3.6zM380.69 43.89h3.6v3.6h-3.6zM383.25 43.38h3.6v3.6h-3.6zM385.81 42.88h3.6v3.6h-3.6zM388.38 42.48h3.6v3.6h-3.6zM390.94 42.29h3.6v3.6h-3.6zM393.50 42.20h3.6v3.6h-3.6zM245.40 52.20h3.6v3.6h-3.6zM247.94 54.74h3.6v3.6h-3.6zM250.49 56.97h3.6v3.6h-3.6zM253.03 60.90h3.6v3.6h-3.6zM255.58 65.03h3.6v3.6h-3.6zM258.12 67.91h3.6v3.6h-3.6zM260.67 71.01h3.6v3.6h-3.6zM263.21 73.79h3.6v3.6h-3.6zM265.76 77.21h3.6v3.6h-3.6zM268.30 81.24h3.6v3.6h-3.6zM270.85 84.88h3.6v3.6h-3.6zM273.39 89.69h3.6v3.6h-3.6zM275.94 93.56h3.6v3.6h-3.6zM278.48 97.26h3.6v3.6h-3.6zM281.03 100.71h3.6v3.6h-3.6zM283.57 103.86h3.6v3.6h-3.6zM286.12 106.75h3.6v3.6h-3.6zM288.66 109.37h3.6v3.6h-3.6zM291.21 111.77h3.6v3.6h-3.6zM293.75 113.86h3.6v3.6h-3.6zM296.30 115.69h3.6v3.6h-3.6zM298.84 117.21h3.6v3.6h-3.6zM301.39 118.51h3.6v3.6h-3.6zM303.93 119.64h3.6v3.6h-3.6zM306.48 120.66h3.6v3.6h-3.6zM309.02 121.49h3.6v3.6h-3.6zM311.57 122.17h3.6v3.6h-3.6zM314.11 122.73h3.6v3.6h-3.6zM316.65 123.16h3.6v3.6h-3.6zM319.20 123.50h3.6v3.6h-3.6zM245.40 58.80h3.6v3.6h-3.6zM247.94 60.88h3.6v3.6h-3.6zM250.49 63.52h3.6v3.6h-3.6zM253.03 66.69h3.6v3.6h-3.6zM255.58 69.91h3.6v3.6h-3.6zM258.12 73.79h3.6v3.6h-3.6zM260.67 77.45h3.6v3.6h-3.6zM263.21 82.41h3.6v3.6h-3.6zM265.76 86.93h3.6v3.6h-3.6zM268.30 91.25h3.6v3.6h-3.6zM270.85 96.43h3.6v3.6h-3.6zM273.39 102.15h3.6v3.6h-3.6zM275.94 106.86h3.6v3.6h-3.6zM278.48 111.00h3.6v3.6h-3.6zM281.03 115.20h3.6v3.6h-3.6zM283.57 119.30h3.6v3.6h-3.6zM286.12 123.30h3.6v3.6h-3.6zM288.66 126.82h3.6v3.6h-3.6zM291.21 130.03h3.6v3.6h-3.6zM293.75 132.87h3.6v3.6h-3.6zM296.30 135.21h3.6v3.6h-3.6zM298.84 137.13h3.6v3.6h-3.6zM301.39 138.76h3.6v3.6h-3.6zM303.93 140.20h3.6v3.6h-3.6zM306.48 141.46h3.6v3.6h-3.6zM309.02 142.58h3.6v3.6h-3.6zM311.57 143.62h3.6v3.6h-3.6zM314.11 144.66h3.6v3.6h-3.6zM316.65 145.80h3.6v3.6h-3.6zM319.20 147.00h3.6v3.6h-3.6zM255.58 276.95h3.6v3.6h-3.6zM258.12 267.10h3.6v3.6h-3.6zM260.67 256.68h3.6v3.6h-3.6zM263.21 249.39h3.6v3.6h-3.6zM265.76 241.67h3.6v3.6h-3.6zM268.30 232.80h3.6v3.6h-3.6zM270.85 226.51h3.6v3.6h-3.6zM273.39 221.05h3.6v3.6h-3.6zM275.94 212.28h3.6v3.6h-3.6zM278.48 204.91h3.6v3.6h-3.6zM281.03 198.01h3.6v3.6h-3.6zM283.57 191.24h3.6v3.6h-3.6zM286.12 184.88h3.6v3.6h-3.6zM288.66 179.00h3.6v3.6h-3.6zM291.21 173.21h3.6v3.6h-3.6zM293.75 168.17h3.6v3.6h-3.6zM296.30 164.90h3.6v3.6h-3.6zM298.84 160.61h3.6v3.6h-3.6zM301.39 157.78h3.6v3.6h-3.6zM303.93 155.63h3.6v3.6h-3.6zM306.48 153.89h3.6v3.6h-3.6zM309.02 152.31h3.6v3.6h-3.6zM311.57 150.69h3.6v3.6h-3.6zM314.11 149.24h3.6v3.6h-3.6zM316.65 148.11h3.6v3.6h-3.6zM319.20 147.20h3.6v3.6h-3.6zM275.94 270.20h3.6v3.6h-3.6zM278.48 265.17h3.6v3.6h-3.6zM281.03 259.63h3.6v3.6h-3.6zM283.57 255.33h3.6v3.6h-3.6zM286.12 250.17h3.6v3.6h-3.6zM288.66 245.19h3.6v3.6h-3.6zM291.21 239.40h3.6v3.6h-3.6zM293.75 234.09h3.6v3.6h-3.6zM296.30 229.11h3.6v3.6h-3.6zM298.84 224.67h3.6v3.6h-3.6zM301.39 220.86h3.6v3.6h-3.6zM303.93 217.20h3.6v3.6h-3.6zM306.48 214.72h3.6v3.6h-3.6zM309.02 212.09h3.6v3.6h-3.6zM311.57 210.35h3.6v3.6h-3.6zM314.11 209.26h3.6v3.6h-3.6zM316.65 208.63h3.6v3.6h-3.6zM319.20 208.40h3.6v3.6h-3.6zM286.12 267.07h3.6v3.6h-3.6zM288.66 262.07h3.6v3.6h-3.6zM291.21 256.89h3.6v3.6h-3.6zM293.75 251.80h3.6v3.6h-3.6zM296.30 246.76h3.6v3.6h-3.6zM298.84 243.55h3.6v3.6h-3.6zM301.39 240.82h3.6v3.6h-3.6zM303.93 238.43h3.6v3.6h-3.6zM306.48 236.47h3.6v3.6h-3.6zM309.02 234.71h3.6v3.6h-3.6zM311.57 233.07h3.6v3.6h-3.6zM314.11 231.60h3.6v3.6h-3.6zM316.65 230.32h3.6v3.6h-3.6zM319.20 229.20h3.6v3.6h-3.6zM291.21 267.03h3.6v3.6h-3.6zM293.75 261.95h3.6v3.6h-3.6zM296.30 256.92h3.6v3.6h-3.6zM298.84 251.74h3.6v3.6h-3.6zM301.39 246.71h3.6v3.6h-3.6zM303.93 241.38h3.6v3.6h-3.6zM306.48 237.08h3.6v3.6h-3.6zM309.02 234.46h3.6v3.6h-3.6zM245.40 239.20h3.6v3.6h-3.6zM247.94 238.96h3.6v3.6h-3.6zM250.49 238.69h3.6v3.6h-3.6zM253.03 238.40h3.6v3.6h-3.6zM255.58 238.03h3.6v3.6h-3.6zM258.12 237.71h3.6v3.6h-3.6zM260.67 237.49h3.6v3.6h-3.6zM263.21 237.31h3.6v3.6h-3.6zM265.76 237.15h3.6v3.6h-3.6zM268.30 236.99h3.6v3.6h-3.6zM270.85 236.85h3.6v3.6h-3.6zM273.39 236.72h3.6v3.6h-3.6zM275.94 236.57h3.6v3.6h-3.6zM278.48 236.38h3.6v3.6h-3.6zM281.03 236.09h3.6v3.6h-3.6zM283.57 235.71h3.6v3.6h-3.6zM286.12 235.16h3.6v3.6h-3.6zM288.66 234.41h3.6v3.6h-3.6zM291.21 233.76h3.6v3.6h-3.6zM293.75 233.21h3.6v3.6h-3.6zM296.30 232.68h3.6v3.6h-3.6zM298.84 232.17h3.6v3.6h-3.6zM301.39 231.68h3.6v3.6h-3.6zM303.93 231.17h3.6v3.6h-3.6zM306.48 230.65h3.6v3.6h-3.6zM309.02 230.15h3.6v3.6h-3.6zM311.57 229.74h3.6v3.6h-3.6zM314.11 229.41h3.6v3.6h-3.6zM316.65 229.12h3.6v3.6h-3.6zM319.20 229.00h3.6v3.6h-3.6zM321.76 229.15h3.6v3.6h-3.6zM324.32 229.52h3.6v3.6h-3.6zM326.89 229.97h3.6v3.6h-3.6zM329.45 230.42h3.6v3.6h-3.6zM332.01 230.92h3.6v3.6h-3.6zM334.57 231.49h3.6v3.6h-3.6zM337.13 232.10h3.6v3.6h-3.6zM339.70 232.79h3.6v3.6h-3.6zM342.26 233.47h3.6v3.6h-3.6zM344.82 234.07h3.6v3.6h-3.6zM347.38 234.61h3.6v3.6h-3.6zM349.94 235.15h3.6v3.6h-3.6zM352.51 235.73h3.6v3.6h-3.6zM355.07 236.31h3.6v3.6h-3.6zM357.63 236.78h3.6v3.6h-3.6zM360.19 237.20h3.6v3.6h-3.6zM362.75 237.48h3.6v3.6h-3.6zM365.32 237.63h3.6v3.6h-3.6zM367.88 237.70h3.6v3.6h-3.6zM370.44 237.50h3.6v3.6h-3.6zM373.00 237.20h3.6v3.6h-3.6zM375.57 237.27h3.6v3.6h-3.6zM378.13 237.48h3.6v3.6h-3.6zM380.69 237.75h3.6v3.6h-3.6zM383.25 238.00h3.6v3.6h-3.6zM385.81 238.24h3.6v3.6h-3.6zM388.38 238.48h3.6v3.6h-3.6zM390.94 238.73h3.6v3.6h-3.6zM393.50 239.00h3.6v3.6h-3.6zM245.40 247.40h3.6v3.6h-3.6zM247.94 247.45h3.6v3.6h-3.6zM250.49 247.58h3.6v3.6h-3.6zM253.03 247.77h3.6v3.6h-3.6zM255.58 248.22h3.6v3.6h-3.6zM258.12 248.85h3.6v3.6h-3.6zM260.67 249.65h3.6v3.6h-3.6zM263.21 250.76h3.6v3.6h-3.6zM265.76 252.44h3.6v3.6h-3.6zM268.30 254.17h3.6v3.6h-3.6zM270.85 255.86h3.6v3.6h-3.6zM273.39 257.54h3.6v3.6h-3.6zM275.94 259.04h3.6v3.6h-3.6zM278.48 259.87h3.6v3.6h-3.6zM281.03 260.24h3.6v3.6h-3.6zM245.40 264.90h3.6v3.6h-3.6zM247.94 264.85h3.6v3.6h-3.6zM250.49 264.70h3.6v3.6h-3.6zM253.03 264.47h3.6v3.6h-3.6zM255.58 263.70h3.6v3.6h-3.6zM258.12 262.36h3.6v3.6h-3.6zM260.67 260.91h3.6v3.6h-3.6zM263.21 259.22h3.6v3.6h-3.6zM265.76 257.50h3.6v3.6h-3.6zM268.30 256.19h3.6v3.6h-3.6zM270.85 255.05h3.6v3.6h-3.6zM273.39 254.20h3.6v3.6h-3.6zM258.12 271.88h3.6v3.6h-3.6zM260.67 270.33h3.6v3.6h-3.6zM263.21 269.02h3.6v3.6h-3.6zM265.76 267.88h3.6v3.6h-3.6zM268.30 266.82h3.6v3.6h-3.6zM270.85 266.04h3.6v3.6h-3.6zM273.39 265.48h3.6v3.6h-3.6zM275.94 265.20h3.6v3.6h-3.6zM278.48 265.77h3.6v3.6h-3.6zM281.03 266.67h3.6v3.6h-3.6zM283.57 267.10h3.6v3.6h-3.6zM286.12 267.42h3.6v3.6h-3.6zM288.66 267.48h3.6v3.6h-3.6zM291.21 267.16h3.6v3.6h-3.6zM293.75 266.75h3.6v3.6h-3.6zM296.30 266.47h3.6v3.6h-3.6zM298.84 266.21h3.6v3.6h-3.6zM301.39 266.00h3.6v3.6h-3.6zM303.93 265.82h3.6v3.6h-3.6zM306.48 265.65h3.6v3.6h-3.6zM309.02 265.53h3.6v3.6h-3.6zM311.57 265.48h3.6v3.6h-3.6zM314.11 265.44h3.6v3.6h-3.6zM316.65 265.41h3.6v3.6h-3.6zM319.20 265.40h3.6v3.6h-3.6zM319.20 147.20h3.6v3.6h-3.6zM321.76 148.57h3.6v3.6h-3.6zM324.32 149.91h3.6v3.6h-3.6zM326.89 151.23h3.6v3.6h-3.6zM329.45 152.53h3.6v3.6h-3.6zM332.01 153.78h3.6v3.6h-3.6zM334.57 155.04h3.6v3.6h-3.6zM337.13 156.34h3.6v3.6h-3.6zM339.70 157.70h3.6v3.6h-3.6zM342.26 159.04h3.6v3.6h-3.6zM344.82 160.28h3.6v3.6h-3.6zM347.38 161.34h3.6v3.6h-3.6zM349.94 162.30h3.6v3.6h-3.6zM352.51 163.26h3.6v3.6h-3.6zM355.07 164.32h3.6v3.6h-3.6zM357.63 165.56h3.6v3.6h-3.6zM360.19 166.90h3.6v3.6h-3.6zM362.75 168.22h3.6v3.6h-3.6zM365.32 169.41h3.6v3.6h-3.6zM367.88 170.52h3.6v3.6h-3.6zM370.44 171.58h3.6v3.6h-3.6zM373.00 172.55h3.6v3.6h-3.6zM375.57 173.44h3.6v3.6h-3.6zM378.13 174.29h3.6v3.6h-3.6zM380.69 175.07h3.6v3.6h-3.6zM383.25 175.71h3.6v3.6h-3.6zM385.81 176.21h3.6v3.6h-3.6zM388.38 176.66h3.6v3.6h-3.6zM390.94 177.03h3.6v3.6h-3.6zM393.50 177.30h3.6v3.6h-3.6zM319.20 148.20h3.6v3.6h-3.6zM321.76 148.84h3.6v3.6h-3.6zM324.32 149.82h3.6v3.6h-3.6zM326.89 151.11h3.6v3.6h-3.6zM329.45 152.88h3.6v3.6h-3.6zM332.01 155.10h3.6v3.6h-3.6zM334.57 157.48h3.6v3.6h-3.6zM337.13 160.07h3.6v3.6h-3.6zM339.70 164.32h3.6v3.6h-3.6zM342.26 167.09h3.6v3.6h-3.6zM344.82 169.90h3.6v3.6h-3.6zM347.38 174.60h3.6v3.6h-3.6zM349.94 179.71h3.6v3.6h-3.6zM352.51 186.90h3.6v3.6h-3.6zM355.07 192.92h3.6v3.6h-3.6zM357.63 200.37h3.6v3.6h-3.6zM360.19 207.40h3.6v3.6h-3.6zM362.75 214.85h3.6v3.6h-3.6zM365.32 221.89h3.6v3.6h-3.6zM367.88 228.26h3.6v3.6h-3.6zM370.44 232.56h3.6v3.6h-3.6zM373.00 236.19h3.6v3.6h-3.6zM375.57 237.70h3.6v3.6h-3.6zM319.20 209.00h3.6v3.6h-3.6zM321.76 209.16h3.6v3.6h-3.6zM324.32 209.58h3.6v3.6h-3.6zM326.89 210.29h3.6v3.6h-3.6zM329.45 212.01h3.6v3.6h-3.6zM332.01 214.14h3.6v3.6h-3.6zM334.57 216.68h3.6v3.6h-3.6zM337.13 219.58h3.6v3.6h-3.6zM339.70 223.14h3.6v3.6h-3.6zM342.26 228.04h3.6v3.6h-3.6zM344.82 232.86h3.6v3.6h-3.6zM347.38 237.62h3.6v3.6h-3.6zM349.94 242.95h3.6v3.6h-3.6zM352.51 249.24h3.6v3.6h-3.6zM355.07 256.22h3.6v3.6h-3.6zM357.63 262.91h3.6v3.6h-3.6zM319.20 232.70h3.6v3.6h-3.6zM321.76 233.07h3.6v3.6h-3.6zM324.32 233.43h3.6v3.6h-3.6zM326.89 233.80h3.6v3.6h-3.6zM329.45 234.16h3.6v3.6h-3.6zM332.01 234.53h3.6v3.6h-3.6zM334.57 234.90h3.6v3.6h-3.6zM337.13 235.26h3.6v3.6h-3.6zM339.70 235.63h3.6v3.6h-3.6zM342.26 236.04h3.6v3.6h-3.6zM344.82 236.52h3.6v3.6h-3.6zM347.38 237.11h3.6v3.6h-3.6zM349.94 237.65h3.6v3.6h-3.6zM352.51 238.08h3.6v3.6h-3.6zM355.07 238.47h3.6v3.6h-3.6zM357.63 238.85h3.6v3.6h-3.6zM360.19 239.20h3.6v3.6h-3.6zM362.75 239.64h3.6v3.6h-3.6zM365.32 240.44h3.6v3.6h-3.6zM367.88 241.88h3.6v3.6h-3.6zM370.44 244.20h3.6v3.6h-3.6zM370.44 244.67h3.6v3.6h-3.6zM373.00 249.56h3.6v3.6h-3.6zM375.57 255.51h3.6v3.6h-3.6zM378.13 259.88h3.6v3.6h-3.6zM380.69 261.95h3.6v3.6h-3.6zM383.25 263.04h3.6v3.6h-3.6zM385.81 263.75h3.6v3.6h-3.6zM388.38 264.10h3.6v3.6h-3.6zM390.94 264.31h3.6v3.6h-3.6zM393.50 264.40h3.6v3.6h-3.6zM319.20 233.20h3.6v3.6h-3.6zM321.76 233.89h3.6v3.6h-3.6zM324.32 234.74h3.6v3.6h-3.6zM326.89 235.80h3.6v3.6h-3.6zM329.45 237.23h3.6v3.6h-3.6zM332.01 239.46h3.6v3.6h-3.6zM334.57 242.59h3.6v3.6h-3.6zM337.13 245.11h3.6v3.6h-3.6zM339.70 248.14h3.6v3.6h-3.6zM342.26 251.58h3.6v3.6h-3.6zM344.82 255.31h3.6v3.6h-3.6zM347.38 258.82h3.6v3.6h-3.6zM349.94 262.22h3.6v3.6h-3.6zM352.51 266.18h3.6v3.6h-3.6zM355.07 269.96h3.6v3.6h-3.6zM334.57 238.99h3.6v3.6h-3.6zM337.13 241.33h3.6v3.6h-3.6zM339.70 244.25h3.6v3.6h-3.6zM342.26 247.69h3.6v3.6h-3.6zM344.82 251.30h3.6v3.6h-3.6zM347.38 255.02h3.6v3.6h-3.6zM349.94 259.48h3.6v3.6h-3.6zM352.51 263.70h3.6v3.6h-3.6zM355.07 267.20h3.6v3.6h-3.6zM319.20 121.20h3.6v3.6h-3.6zM321.76 120.42h3.6v3.6h-3.6zM324.32 118.00h3.6v3.6h-3.6zM326.89 115.12h3.6v3.6h-3.6zM329.45 111.84h3.6v3.6h-3.6zM332.01 107.86h3.6v3.6h-3.6zM334.57 103.47h3.6v3.6h-3.6zM337.13 96.66h3.6v3.6h-3.6zM339.70 91.61h3.6v3.6h-3.6zM342.26 84.17h3.6v3.6h-3.6zM344.82 78.15h3.6v3.6h-3.6zM347.38 71.96h3.6v3.6h-3.6zM349.94 65.87h3.6v3.6h-3.6zM352.51 60.72h3.6v3.6h-3.6zM355.07 53.55h3.6v3.6h-3.6zM357.63 47.14h3.6v3.6h-3.6zM360.19 41.32h3.6v3.6h-3.6zM362.75 35.54h3.6v3.6h-3.6zM365.32 28.92h3.6v3.6h-3.6zM367.88 24.75h3.6v3.6h-3.6zM370.44 19.10h3.6v3.6h-3.6zM378.13 15.96h3.6v3.6h-3.6zM380.69 18.60h3.6v3.6h-3.6zM383.25 22.96h3.6v3.6h-3.6zM385.81 25.74h3.6v3.6h-3.6zM388.38 27.65h3.6v3.6h-3.6zM390.94 28.91h3.6v3.6h-3.6zM393.50 29.30h3.6v3.6h-3.6zM319.20 123.70h3.6v3.6h-3.6zM321.76 123.60h3.6v3.6h-3.6zM324.32 123.30h3.6v3.6h-3.6zM326.89 122.22h3.6v3.6h-3.6zM329.45 121.13h3.6v3.6h-3.6zM332.01 120.12h3.6v3.6h-3.6zM334.57 119.24h3.6v3.6h-3.6zM337.13 118.65h3.6v3.6h-3.6zM339.70 116.97h3.6v3.6h-3.6zM342.26 114.17h3.6v3.6h-3.6zM344.82 111.71h3.6v3.6h-3.6zM347.38 109.06h3.6v3.6h-3.6zM349.94 104.89h3.6v3.6h-3.6zM352.51 100.49h3.6v3.6h-3.6zM355.07 96.67h3.6v3.6h-3.6zM357.63 93.12h3.6v3.6h-3.6zM360.19 88.64h3.6v3.6h-3.6zM362.75 83.30h3.6v3.6h-3.6zM365.32 77.35h3.6v3.6h-3.6zM367.88 71.77h3.6v3.6h-3.6zM370.44 67.38h3.6v3.6h-3.6zM373.00 61.18h3.6v3.6h-3.6zM375.57 56.60h3.6v3.6h-3.6zM378.13 53.25h3.6v3.6h-3.6zM380.69 50.60h3.6v3.6h-3.6zM383.25 48.96h3.6v3.6h-3.6zM385.81 48.06h3.6v3.6h-3.6zM388.38 47.64h3.6v3.6h-3.6zM390.94 47.37h3.6v3.6h-3.6zM393.50 47.20h3.6v3.6h-3.6zM319.20 147.20h3.6v3.6h-3.6zM321.76 146.26h3.6v3.6h-3.6zM324.32 145.25h3.6v3.6h-3.6zM326.89 144.15h3.6v3.6h-3.6zM329.45 142.71h3.6v3.6h-3.6zM332.01 141.00h3.6v3.6h-3.6zM334.57 139.35h3.6v3.6h-3.6zM337.13 137.45h3.6v3.6h-3.6zM339.70 134.75h3.6v3.6h-3.6zM342.26 131.82h3.6v3.6h-3.6zM344.82 129.22h3.6v3.6h-3.6zM347.38 126.16h3.6v3.6h-3.6zM349.94 122.59h3.6v3.6h-3.6zM352.51 119.55h3.6v3.6h-3.6zM355.07 116.22h3.6v3.6h-3.6zM357.63 112.28h3.6v3.6h-3.6zM360.19 108.23h3.6v3.6h-3.6zM362.75 104.62h3.6v3.6h-3.6zM365.32 100.48h3.6v3.6h-3.6zM367.88 95.89h3.6v3.6h-3.6zM370.44 91.79h3.6v3.6h-3.6zM373.00 87.99h3.6v3.6h-3.6zM375.57 81.89h3.6v3.6h-3.6zM378.13 77.06h3.6v3.6h-3.6zM380.69 73.27h3.6v3.6h-3.6zM383.25 69.38h3.6v3.6h-3.6zM385.81 64.42h3.6v3.6h-3.6zM388.38 61.24h3.6v3.6h-3.6zM390.94 58.84h3.6v3.6h-3.6zM393.50 57.20h3.6v3.6h-3.6zM355.07 268.20h3.6v3.6h-3.6zM357.63 266.16h3.6v3.6h-3.6zM360.19 263.10h3.6v3.6h-3.6zM362.75 260.04h3.6v3.6h-3.6zM365.32 257.32h3.6v3.6h-3.6zM367.88 254.17h3.6v3.6h-3.6zM370.44 251.50h3.6v3.6h-3.6zM373.00 247.78h3.6v3.6h-3.6zM375.57 245.01h3.6v3.6h-3.6zM378.13 243.07h3.6v3.6h-3.6zM380.69 241.72h3.6v3.6h-3.6zM383.25 240.86h3.6v3.6h-3.6zM385.81 240.26h3.6v3.6h-3.6zM388.38 239.89h3.6v3.6h-3.6zM390.94 239.61h3.6v3.6h-3.6zM393.50 239.50h3.6v3.6h-3.6zM357.63 264.70h3.6v3.6h-3.6zM360.19 264.89h3.6v3.6h-3.6zM362.75 265.26h3.6v3.6h-3.6zM365.32 265.82h3.6v3.6h-3.6zM367.88 266.64h3.6v3.6h-3.6zM370.44 267.61h3.6v3.6h-3.6zM373.00 268.82h3.6v3.6h-3.6zM375.57 270.57h3.6v3.6h-3.6zM378.13 273.40h3.6v3.6h-3.6zM380.69 277.73h3.6v3.6h-3.6zM319.20 265.70h3.6v3.6h-3.6zM321.76 265.44h3.6v3.6h-3.6zM324.32 265.30h3.6v3.6h-3.6zM326.89 265.30h3.6v3.6h-3.6zM329.45 265.30h3.6v3.6h-3.6zM332.01 265.32h3.6v3.6h-3.6zM334.57 265.54h3.6v3.6h-3.6zM337.13 265.87h3.6v3.6h-3.6zM339.70 266.26h3.6v3.6h-3.6zM342.26 266.81h3.6v3.6h-3.6zM344.82 267.51h3.6v3.6h-3.6zM347.38 268.50h3.6v3.6h-3.6zM349.94 269.62h3.6v3.6h-3.6zM352.51 270.93h3.6v3.6h-3.6zM355.07 272.74h3.6v3.6h-3.6zM357.63 275.04h3.6v3.6h-3.6zM360.19 277.88h3.6v3.6h-3.6zM319.20 269.20h3.6v3.6h-3.6zM321.76 270.21h3.6v3.6h-3.6zM324.32 271.03h3.6v3.6h-3.6zM326.89 271.57h3.6v3.6h-3.6zM329.45 272.02h3.6v3.6h-3.6zM332.01 272.78h3.6v3.6h-3.6zM334.57 274.13h3.6v3.6h-3.6zM337.13 275.47h3.6v3.6h-3.6zM339.70 276.64h3.6v3.6h-3.6zM342.26 278.34h3.6v3.6h-3.6zM189.49 227.70h3.6v3.6h-3.6zM192.03 231.73h3.6v3.6h-3.6zM194.57 236.65h3.6v3.6h-3.6zM197.11 242.16h3.6v3.6h-3.6zM199.66 249.39h3.6v3.6h-3.6zM202.20 254.49h3.6v3.6h-3.6zM204.74 259.58h3.6v3.6h-3.6zM207.28 264.54h3.6v3.6h-3.6zM142.60 15.20h3.6v3.6h-3.6zM142.60 22.60h3.6v3.6h-3.6zM146.50 17.30h3.6v3.6h-3.6zM146.50 22.60h3.6v3.6h-3.6zM149.90 19.80h3.6v3.6h-3.6zM149.90 23.00h3.6v3.6h-3.6zM149.90 27.60h3.6v3.6h-3.6zM153.60 17.50h3.6v3.6h-3.6zM157.10 26.50h3.6v3.6h-3.6zM153.60 29.90h3.6v3.6h-3.6zM153.60 33.10h3.6v3.6h-3.6zM157.10 34.00h3.6v3.6h-3.6zM157.10 37.20h3.6v3.6h-3.6zM160.70 34.00h3.6v3.6h-3.6zM160.70 38.80h3.6v3.6h-3.6zM157.10 40.00h3.6v3.6h-3.6zM164.10 38.80h3.6v3.6h-3.6zM164.10 41.30h3.6v3.6h-3.6zM167.80 43.20h3.6v3.6h-3.6zM171.50 44.10h3.6v3.6h-3.6zM167.80 42.20h3.6v3.6h-3.6zM160.70 41.70h3.6v3.6h-3.6zM160.80 223.90h3.6v3.6h-3.6zM156.90 233.00h3.6v3.6h-3.6zM160.80 269.50h3.6v3.6h-3.6zM257.60 278.70h3.6v3.6h-3.6zM278.70 277.80h3.6v3.6h-3.6zM286.20 277.80h3.6v3.6h-3.6zM298.90 276.20h3.6v3.6h-3.6zM303.90 278.70h3.6v3.6h-3.6zM153.70 213.50h3.6v3.6h-3.6zM157.30 208.10h3.6v3.6h-3.6zM164.50 215.50h3.6v3.6h-3.6z" fill="none" stroke="#00f" stroke-width="1.1"/>
<rect x="69" y="17" width="326.3" height="264" fill="none" stroke="#000" stroke-width="1.9"/>
<g font-family="Liberation Sans, Arial, sans-serif" font-size="12.5" fill="#000">
<text x="61.3" y="21.5" text-anchor="end">1.5</text><text x="61.3" y="65.5" text-anchor="end">1</text><text x="61.3" y="109.5" text-anchor="end">0.5</text><text x="61.3" y="153.5" text-anchor="end">0</text><text x="61.3" y="197.5" text-anchor="end">-0.5</text><text x="61.3" y="241.5" text-anchor="end">-1</text><text x="61.3" y="285.5" text-anchor="end">-1.5</text>
</g>
<text x="19.6" y="137.5" font-family="Liberation Sans, Arial, sans-serif" font-size="13.5" stroke="#000" stroke-width="0.2" text-anchor="middle" transform="rotate(-90 19.6 137.5)" dominant-baseline="central" textLength="73.5" lengthAdjust="spacingAndGlyphs">Energy (eV)</text>
<g font-family="Liberation Serif, Times New Roman, serif" font-size="15.5" fill="#000" text-anchor="middle">
<text x="73" y="300">M</text><text x="174.4" y="300.8">Γ</text><text x="247.8" y="300.8">X</text><text x="323.2" y="300.8">M</text><text x="393.5" y="300.8">Y</text>
</g>
<text x="188.9" y="138.6" font-family="Liberation Sans, Arial, sans-serif" font-size="13.6" stroke="#000" stroke-width="0.25" textLength="40.3" lengthAdjust="spacingAndGlyphs">SOC off</text>
<text x="12.6" y="33.6" font-family="Liberation Sans, Arial, sans-serif" font-size="20" stroke="#000" stroke-width="0.3"><tspan font-size="21.5">(</tspan>a<tspan font-size="21.5">)</tspan></text>
<text x="11.8" y="333.2" font-family="Liberation Sans, Arial, sans-serif" font-size="20" stroke="#000" stroke-width="0.3"><tspan font-size="21.5">(</tspan>b<tspan font-size="21.5">)</tspan></text>
<!-- diagram (b) -->
<g stroke="#5b9bd5" stroke-width="2" fill="none" stroke-linecap="round">
<line x1="110.8" y1="328.5" x2="152.3" y2="365.4"/>
<line x1="110.8" y1="417" x2="151.9" y2="384.6"/>
<line x1="281.6" y1="365.4" x2="330.8" y2="323.5"/>
<line x1="282.5" y1="384.2" x2="323.2" y2="418.3"/>
<line x1="165" y1="374.6" x2="189" y2="374.6" stroke-dasharray="7.5,6" stroke-linecap="butt"/>
<line x1="242" y1="374.6" x2="268.6" y2="374.6" stroke-dasharray="7.5,6" stroke-linecap="butt"/>
</g>
<ellipse cx="215.6" cy="374.6" rx="26.2" ry="9" fill="none" stroke="#41719c" stroke-width="2"/>
<polygon points="152.3,365.4 151.9,384.6 164.9,374.5" fill="#5b9bd5" stroke="#41719c" stroke-width="1.5" stroke-linejoin="round"/>
<polygon points="268.6,374.4 281.6,365.4 282.5,384.2" fill="#5b9bd5" stroke="#41719c" stroke-width="1.5" stroke-linejoin="round"/>
<g fill="#5b9bd5">
<polygon points="0,-2.6 5,0 0,2.6" transform="translate(125,341) rotate(-138.4)"/>
<polygon points="0,-2.6 5,0 0,2.6" transform="translate(141.2,392.8) rotate(-38.2)"/>
<polygon points="0,-2.6 5,0 0,2.6" transform="translate(321,331.6) rotate(-40.4)"/>
<polygon points="0,-2.6 5,0 0,2.6" transform="translate(292.3,392.3) rotate(-140)"/>
</g>
<g fill="#41719c">
<polygon points="0,-2.6 5,0 0,2.6" transform="translate(213.8,365.6) rotate(180)"/>
<polygon points="0,-2.6 5,0 0,2.6" transform="translate(217.4,383.6)"/>
</g>
<g font-family="Liberation Serif, Times New Roman, serif" font-size="12.5" font-weight="bold" fill="#000">
<text x="115.6" y="364.2" textLength="25.5" lengthAdjust="spacingAndGlyphs">Ω-ω</text>
<text x="129.6" y="388.6" textLength="11.4" lengthAdjust="spacingAndGlyphs">Ω</text>
<text x="166.2" y="372.3" textLength="8.8" lengthAdjust="spacingAndGlyphs">ω</text>
</g>
</svg>
</body></html>
